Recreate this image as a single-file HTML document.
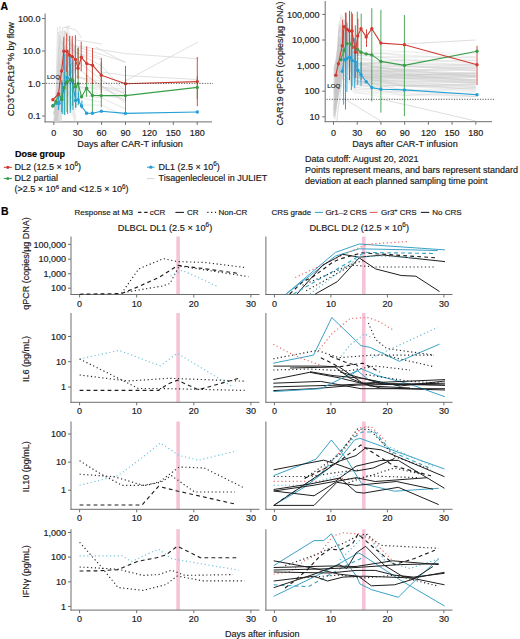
<!DOCTYPE html>
<html><head><meta charset="utf-8"><style>
html,body{margin:0;padding:0;background:#fff;}
svg{display:block;}
text{font-family:"Liberation Sans",sans-serif;}
</style></head><body>
<svg width="520" height="639" viewBox="0 0 520 639" font-family="Liberation Sans, sans-serif">
<rect width="520" height="639" fill="#fff"/>
<text x="0.6" y="10.3" font-size="10.5" text-anchor="start" font-weight="bold" fill="#000" stroke="#000" stroke-width="0.18" >A</text>
<line x1="45.10" y1="13.50" x2="45.10" y2="122.40" stroke="#6e6e6e" stroke-width="1"/>
<line x1="44.60" y1="121.90" x2="212.00" y2="121.90" stroke="#6e6e6e" stroke-width="1"/>
<line x1="42.10" y1="18.50" x2="45.10" y2="18.50" stroke="#6e6e6e" stroke-width="1"/>
<text x="40.5" y="21.6" font-size="9" text-anchor="end" fill="#1c1c1c" stroke="#1c1c1c" stroke-width="0.18" >100.0</text>
<line x1="42.10" y1="51.00" x2="45.10" y2="51.00" stroke="#6e6e6e" stroke-width="1"/>
<text x="40.5" y="54.1" font-size="9" text-anchor="end" fill="#1c1c1c" stroke="#1c1c1c" stroke-width="0.18" >10.0</text>
<line x1="42.10" y1="83.50" x2="45.10" y2="83.50" stroke="#6e6e6e" stroke-width="1"/>
<text x="40.5" y="86.6" font-size="9" text-anchor="end" fill="#1c1c1c" stroke="#1c1c1c" stroke-width="0.18" >1.0</text>
<line x1="42.10" y1="116.00" x2="45.10" y2="116.00" stroke="#6e6e6e" stroke-width="1"/>
<text x="40.5" y="119.1" font-size="9" text-anchor="end" fill="#1c1c1c" stroke="#1c1c1c" stroke-width="0.18" >0.1</text>
<line x1="53.80" y1="121.90" x2="53.80" y2="124.90" stroke="#6e6e6e" stroke-width="1"/>
<text x="53.8" y="135.6" font-size="9" text-anchor="middle" fill="#1c1c1c" stroke="#1c1c1c" stroke-width="0.18" >0</text>
<line x1="77.70" y1="121.90" x2="77.70" y2="124.90" stroke="#6e6e6e" stroke-width="1"/>
<text x="77.7" y="135.6" font-size="9" text-anchor="middle" fill="#1c1c1c" stroke="#1c1c1c" stroke-width="0.18" >30</text>
<line x1="101.60" y1="121.90" x2="101.60" y2="124.90" stroke="#6e6e6e" stroke-width="1"/>
<text x="101.6" y="135.6" font-size="9" text-anchor="middle" fill="#1c1c1c" stroke="#1c1c1c" stroke-width="0.18" >60</text>
<line x1="125.50" y1="121.90" x2="125.50" y2="124.90" stroke="#6e6e6e" stroke-width="1"/>
<text x="125.5" y="135.6" font-size="9" text-anchor="middle" fill="#1c1c1c" stroke="#1c1c1c" stroke-width="0.18" >90</text>
<line x1="149.40" y1="121.90" x2="149.40" y2="124.90" stroke="#6e6e6e" stroke-width="1"/>
<text x="149.4" y="135.6" font-size="9" text-anchor="middle" fill="#1c1c1c" stroke="#1c1c1c" stroke-width="0.18" >120</text>
<line x1="173.31" y1="121.90" x2="173.31" y2="124.90" stroke="#6e6e6e" stroke-width="1"/>
<text x="173.3" y="135.6" font-size="9" text-anchor="middle" fill="#1c1c1c" stroke="#1c1c1c" stroke-width="0.18" >150</text>
<line x1="197.21" y1="121.90" x2="197.21" y2="124.90" stroke="#6e6e6e" stroke-width="1"/>
<text x="197.2" y="135.6" font-size="9" text-anchor="middle" fill="#1c1c1c" stroke="#1c1c1c" stroke-width="0.18" >180</text>
<text x="130.1" y="146.8" font-size="9.1" text-anchor="middle" fill="#1c1c1c" stroke="#1c1c1c" stroke-width="0.18" >Days after CAR-T infusion</text>
<text transform="translate(14.2,69.2) rotate(-90)" font-size="9.1" text-anchor="middle" fill="#1c1c1c" stroke="#1c1c1c" stroke-width="0.18">CD3<tspan dy="-3.2" font-size="6.5">+</tspan><tspan dy="3.2">CAR19</tspan><tspan dy="-3.2" font-size="6.5">+</tspan><tspan dy="3.2">% by flow</tspan></text>
<line x1="325.20" y1="1.00" x2="325.20" y2="122.20" stroke="#6e6e6e" stroke-width="1"/>
<line x1="324.70" y1="121.70" x2="492.00" y2="121.70" stroke="#6e6e6e" stroke-width="1"/>
<line x1="322.20" y1="14.40" x2="325.20" y2="14.40" stroke="#6e6e6e" stroke-width="1"/>
<text x="319.6" y="17.6" font-size="9" text-anchor="end" fill="#1c1c1c" stroke="#1c1c1c" stroke-width="0.18" >100,000</text>
<line x1="322.20" y1="40.00" x2="325.20" y2="40.00" stroke="#6e6e6e" stroke-width="1"/>
<text x="319.6" y="43.2" font-size="9" text-anchor="end" fill="#1c1c1c" stroke="#1c1c1c" stroke-width="0.18" >10,000</text>
<line x1="322.20" y1="65.60" x2="325.20" y2="65.60" stroke="#6e6e6e" stroke-width="1"/>
<text x="319.6" y="68.8" font-size="9" text-anchor="end" fill="#1c1c1c" stroke="#1c1c1c" stroke-width="0.18" >1,000</text>
<line x1="322.20" y1="91.20" x2="325.20" y2="91.20" stroke="#6e6e6e" stroke-width="1"/>
<text x="319.6" y="94.4" font-size="9" text-anchor="end" fill="#1c1c1c" stroke="#1c1c1c" stroke-width="0.18" >100</text>
<line x1="322.20" y1="116.80" x2="325.20" y2="116.80" stroke="#6e6e6e" stroke-width="1"/>
<text x="319.6" y="120.0" font-size="9" text-anchor="end" fill="#1c1c1c" stroke="#1c1c1c" stroke-width="0.18" >10</text>
<line x1="333.50" y1="121.70" x2="333.50" y2="124.70" stroke="#6e6e6e" stroke-width="1"/>
<text x="333.5" y="135.8" font-size="9" text-anchor="middle" fill="#1c1c1c" stroke="#1c1c1c" stroke-width="0.18" >0</text>
<line x1="357.22" y1="121.70" x2="357.22" y2="124.70" stroke="#6e6e6e" stroke-width="1"/>
<text x="357.2" y="135.8" font-size="9" text-anchor="middle" fill="#1c1c1c" stroke="#1c1c1c" stroke-width="0.18" >30</text>
<line x1="380.94" y1="121.70" x2="380.94" y2="124.70" stroke="#6e6e6e" stroke-width="1"/>
<text x="380.9" y="135.8" font-size="9" text-anchor="middle" fill="#1c1c1c" stroke="#1c1c1c" stroke-width="0.18" >60</text>
<line x1="404.65" y1="121.70" x2="404.65" y2="124.70" stroke="#6e6e6e" stroke-width="1"/>
<text x="404.7" y="135.8" font-size="9" text-anchor="middle" fill="#1c1c1c" stroke="#1c1c1c" stroke-width="0.18" >90</text>
<line x1="428.37" y1="121.70" x2="428.37" y2="124.70" stroke="#6e6e6e" stroke-width="1"/>
<text x="428.4" y="135.8" font-size="9" text-anchor="middle" fill="#1c1c1c" stroke="#1c1c1c" stroke-width="0.18" >120</text>
<line x1="452.09" y1="121.70" x2="452.09" y2="124.70" stroke="#6e6e6e" stroke-width="1"/>
<text x="452.1" y="135.8" font-size="9" text-anchor="middle" fill="#1c1c1c" stroke="#1c1c1c" stroke-width="0.18" >150</text>
<line x1="475.81" y1="121.70" x2="475.81" y2="124.70" stroke="#6e6e6e" stroke-width="1"/>
<text x="475.8" y="135.8" font-size="9" text-anchor="middle" fill="#1c1c1c" stroke="#1c1c1c" stroke-width="0.18" >180</text>
<text x="405.0" y="146.8" font-size="9.1" text-anchor="middle" fill="#1c1c1c" stroke="#1c1c1c" stroke-width="0.18" >Days after CAR-T infusion</text>
<text transform="translate(282.8,63.5) rotate(-90)" font-size="9" text-anchor="middle" fill="#1c1c1c" stroke="#1c1c1c" stroke-width="0.18">CAR19 qPCR (copies/µg DNA)</text>
<text x="15.0" y="157.3" font-size="9" text-anchor="start" font-weight="bold" fill="#000" stroke="#000" stroke-width="0.18" >Dose group</text>
<line x1="3.80" y1="167.30" x2="11.90" y2="167.30" stroke="#cf3b32" stroke-width="1"/>
<circle cx="7.8" cy="167.3" r="1.6" fill="#cf3b32"/>
<line x1="3.80" y1="178.50" x2="11.90" y2="178.50" stroke="#3a9e48" stroke-width="1"/>
<circle cx="7.8" cy="178.5" r="1.6" fill="#3a9e48"/>
<text x="14.6" y="169.8" font-size="9" text-anchor="start" fill="#1c1c1c" stroke="#1c1c1c" stroke-width="0.18" >DL2 (12.5 × 10<tspan dy="-3.6" font-size="6.4">6</tspan><tspan dy="3.6">)</tspan></text>
<text x="14.6" y="181.0" font-size="9" text-anchor="start" fill="#1c1c1c" stroke="#1c1c1c" stroke-width="0.18" >DL2 partial</text>
<text x="14.6" y="192.2" font-size="9" text-anchor="start" fill="#1c1c1c" stroke="#1c1c1c" stroke-width="0.18" >(&gt;2.5 × 10<tspan dy="-3" font-size="6">6</tspan><tspan dy="3"> and &lt;12.5 × 10</tspan><tspan dy="-3.6" font-size="6.4">6</tspan><tspan dy="3.6">)</tspan></text>
<line x1="147.00" y1="167.20" x2="154.50" y2="167.20" stroke="#23a0d6" stroke-width="1"/>
<circle cx="150.8" cy="167.2" r="1.6" fill="#23a0d6"/>
<text x="158.5" y="169.8" font-size="9" text-anchor="start" fill="#1c1c1c" stroke="#1c1c1c" stroke-width="0.18" >DL1 (2.5 × 10<tspan dy="-3.6" font-size="6.4">6</tspan><tspan dy="3.6">)</tspan></text>
<line x1="147.00" y1="178.60" x2="154.50" y2="178.60" stroke="#d6d6d6" stroke-width="1"/>
<text x="158.5" y="181.0" font-size="9" text-anchor="start" fill="#1c1c1c" stroke="#1c1c1c" stroke-width="0.18" >Tisagenlecleucel in JULIET</text>
<text x="305.0" y="161.6" font-size="9" text-anchor="start" fill="#1c1c1c" stroke="#1c1c1c" stroke-width="0.18" >Data cutoff: August 20, 2021</text>
<text x="305.0" y="172.8" font-size="9" text-anchor="start" fill="#1c1c1c" stroke="#1c1c1c" stroke-width="0.18" >Points represent means, and bars represent standard</text>
<text x="305.0" y="184.0" font-size="9" text-anchor="start" fill="#1c1c1c" stroke="#1c1c1c" stroke-width="0.18" >deviation at each planned sampling time point</text>
<text x="0.9" y="214.8" font-size="10.5" text-anchor="start" font-weight="bold" fill="#000" stroke="#000" stroke-width="0.18" >B</text>
<text x="74.6" y="215.1" font-size="8" text-anchor="start" fill="#1c1c1c" stroke="#1c1c1c" stroke-width="0.18" >Response at M3</text>
<line x1="138.00" y1="212.40" x2="147.60" y2="212.40" stroke="#222" stroke-width="1.1" stroke-dasharray="3.4,2.8"/>
<text x="149.8" y="215.1" font-size="8" text-anchor="start" fill="#1c1c1c" stroke="#1c1c1c" stroke-width="0.18" >cCR</text>
<line x1="175.40" y1="212.40" x2="184.00" y2="212.40" stroke="#222" stroke-width="1.1"/>
<text x="187.0" y="215.1" font-size="8" text-anchor="start" fill="#1c1c1c" stroke="#1c1c1c" stroke-width="0.18" >CR</text>
<line x1="207.30" y1="212.40" x2="217.00" y2="212.40" stroke="#222" stroke-width="1.2" stroke-dasharray="1.2,2.6"/>
<text x="218.5" y="215.1" font-size="8" text-anchor="start" fill="#1c1c1c" stroke="#1c1c1c" stroke-width="0.18" >Non-CR</text>
<text x="165.0" y="230.9" font-size="9.2" text-anchor="middle" fill="#1c1c1c" stroke="#1c1c1c" stroke-width="0.18" >DLBCL DL1 (2.5 × 10<tspan dy="-3.6" font-size="6.4">6</tspan><tspan dy="3.6">)</tspan></text>
<text x="271.5" y="215.1" font-size="8" text-anchor="start" fill="#1c1c1c" stroke="#1c1c1c" stroke-width="0.18" >CRS grade</text>
<line x1="315.00" y1="212.40" x2="323.00" y2="212.40" stroke="#3ba8cc" stroke-width="1.1"/>
<text x="325.4" y="215.1" font-size="8" text-anchor="start" fill="#1c1c1c" stroke="#1c1c1c" stroke-width="0.18" >Gr1–2 CRS</text>
<line x1="369.60" y1="212.40" x2="377.50" y2="212.40" stroke="#e0625e" stroke-width="1.1"/>
<text x="381.0" y="215.1" font-size="8" text-anchor="start" fill="#1c1c1c" stroke="#1c1c1c" stroke-width="0.18" >Gr3<tspan dy="-3" font-size="5.5">+</tspan><tspan dy="3"> CRS</tspan></text>
<line x1="420.80" y1="212.40" x2="429.20" y2="212.40" stroke="#222" stroke-width="1.1"/>
<text x="432.3" y="215.1" font-size="8" text-anchor="start" fill="#1c1c1c" stroke="#1c1c1c" stroke-width="0.18" >No CRS</text>
<text x="359.2" y="230.9" font-size="9.2" text-anchor="middle" fill="#1c1c1c" stroke="#1c1c1c" stroke-width="0.18" >DLBCL DL2 (12.5 × 10<tspan dy="-3.6" font-size="6.4">6</tspan><tspan dy="3.6">)</tspan></text>
<rect x="176.3" y="236.5" width="3.6" height="58.0" fill="#f5c4d8"/>
<rect x="362.0" y="236.5" width="3.6" height="58.0" fill="#f5c4d8"/>
<line x1="71.00" y1="236.50" x2="71.00" y2="295.00" stroke="#6e6e6e" stroke-width="1"/>
<line x1="70.50" y1="294.50" x2="259.50" y2="294.50" stroke="#6e6e6e" stroke-width="1"/>
<line x1="79.60" y1="294.50" x2="79.60" y2="297.50" stroke="#6e6e6e" stroke-width="1"/>
<text x="79.6" y="307.3" font-size="9" text-anchor="middle" fill="#1c1c1c" stroke="#1c1c1c" stroke-width="0.18" >0</text>
<line x1="136.70" y1="294.50" x2="136.70" y2="297.50" stroke="#6e6e6e" stroke-width="1"/>
<text x="136.7" y="307.3" font-size="9" text-anchor="middle" fill="#1c1c1c" stroke="#1c1c1c" stroke-width="0.18" >10</text>
<line x1="193.80" y1="294.50" x2="193.80" y2="297.50" stroke="#6e6e6e" stroke-width="1"/>
<text x="193.8" y="307.3" font-size="9" text-anchor="middle" fill="#1c1c1c" stroke="#1c1c1c" stroke-width="0.18" >20</text>
<line x1="250.90" y1="294.50" x2="250.90" y2="297.50" stroke="#6e6e6e" stroke-width="1"/>
<text x="250.9" y="307.3" font-size="9" text-anchor="middle" fill="#1c1c1c" stroke="#1c1c1c" stroke-width="0.18" >30</text>
<line x1="265.90" y1="236.50" x2="265.90" y2="295.00" stroke="#6e6e6e" stroke-width="1"/>
<line x1="265.40" y1="294.50" x2="452.50" y2="294.50" stroke="#6e6e6e" stroke-width="1"/>
<line x1="274.40" y1="294.50" x2="274.40" y2="297.50" stroke="#6e6e6e" stroke-width="1"/>
<text x="274.4" y="307.3" font-size="9" text-anchor="middle" fill="#1c1c1c" stroke="#1c1c1c" stroke-width="0.18" >0</text>
<line x1="330.90" y1="294.50" x2="330.90" y2="297.50" stroke="#6e6e6e" stroke-width="1"/>
<text x="330.9" y="307.3" font-size="9" text-anchor="middle" fill="#1c1c1c" stroke="#1c1c1c" stroke-width="0.18" >10</text>
<line x1="387.40" y1="294.50" x2="387.40" y2="297.50" stroke="#6e6e6e" stroke-width="1"/>
<text x="387.4" y="307.3" font-size="9" text-anchor="middle" fill="#1c1c1c" stroke="#1c1c1c" stroke-width="0.18" >20</text>
<line x1="443.90" y1="294.50" x2="443.90" y2="297.50" stroke="#6e6e6e" stroke-width="1"/>
<text x="443.9" y="307.3" font-size="9" text-anchor="middle" fill="#1c1c1c" stroke="#1c1c1c" stroke-width="0.18" >30</text>
<line x1="68.00" y1="244.40" x2="71.00" y2="244.40" stroke="#6e6e6e" stroke-width="1"/>
<text x="66.0" y="247.5" font-size="9" text-anchor="end" fill="#1c1c1c" stroke="#1c1c1c" stroke-width="0.18" >100,000</text>
<line x1="68.00" y1="259.20" x2="71.00" y2="259.20" stroke="#6e6e6e" stroke-width="1"/>
<text x="66.0" y="262.3" font-size="9" text-anchor="end" fill="#1c1c1c" stroke="#1c1c1c" stroke-width="0.18" >10,000</text>
<line x1="68.00" y1="273.80" x2="71.00" y2="273.80" stroke="#6e6e6e" stroke-width="1"/>
<text x="66.0" y="276.9" font-size="9" text-anchor="end" fill="#1c1c1c" stroke="#1c1c1c" stroke-width="0.18" >1,000</text>
<line x1="68.00" y1="288.20" x2="71.00" y2="288.20" stroke="#6e6e6e" stroke-width="1"/>
<text x="66.0" y="291.3" font-size="9" text-anchor="end" fill="#1c1c1c" stroke="#1c1c1c" stroke-width="0.18" >100</text>
<text transform="translate(29.0,263.5) rotate(-90)" font-size="9" text-anchor="middle" fill="#1c1c1c" stroke="#1c1c1c" stroke-width="0.18">qPCR (copies/µg DNA)</text>
<rect x="176.3" y="313.0" width="3.6" height="89.30000000000001" fill="#f5c4d8"/>
<rect x="362.0" y="313.0" width="3.6" height="89.30000000000001" fill="#f5c4d8"/>
<line x1="71.00" y1="313.00" x2="71.00" y2="402.80" stroke="#6e6e6e" stroke-width="1"/>
<line x1="70.50" y1="402.30" x2="259.50" y2="402.30" stroke="#6e6e6e" stroke-width="1"/>
<line x1="79.60" y1="402.30" x2="79.60" y2="405.30" stroke="#6e6e6e" stroke-width="1"/>
<text x="79.6" y="414.3" font-size="9" text-anchor="middle" fill="#1c1c1c" stroke="#1c1c1c" stroke-width="0.18" >0</text>
<line x1="136.70" y1="402.30" x2="136.70" y2="405.30" stroke="#6e6e6e" stroke-width="1"/>
<text x="136.7" y="414.3" font-size="9" text-anchor="middle" fill="#1c1c1c" stroke="#1c1c1c" stroke-width="0.18" >10</text>
<line x1="193.80" y1="402.30" x2="193.80" y2="405.30" stroke="#6e6e6e" stroke-width="1"/>
<text x="193.8" y="414.3" font-size="9" text-anchor="middle" fill="#1c1c1c" stroke="#1c1c1c" stroke-width="0.18" >20</text>
<line x1="250.90" y1="402.30" x2="250.90" y2="405.30" stroke="#6e6e6e" stroke-width="1"/>
<text x="250.9" y="414.3" font-size="9" text-anchor="middle" fill="#1c1c1c" stroke="#1c1c1c" stroke-width="0.18" >30</text>
<line x1="265.90" y1="313.00" x2="265.90" y2="402.80" stroke="#6e6e6e" stroke-width="1"/>
<line x1="265.40" y1="402.30" x2="452.50" y2="402.30" stroke="#6e6e6e" stroke-width="1"/>
<line x1="274.40" y1="402.30" x2="274.40" y2="405.30" stroke="#6e6e6e" stroke-width="1"/>
<text x="274.4" y="414.3" font-size="9" text-anchor="middle" fill="#1c1c1c" stroke="#1c1c1c" stroke-width="0.18" >0</text>
<line x1="330.90" y1="402.30" x2="330.90" y2="405.30" stroke="#6e6e6e" stroke-width="1"/>
<text x="330.9" y="414.3" font-size="9" text-anchor="middle" fill="#1c1c1c" stroke="#1c1c1c" stroke-width="0.18" >10</text>
<line x1="387.40" y1="402.30" x2="387.40" y2="405.30" stroke="#6e6e6e" stroke-width="1"/>
<text x="387.4" y="414.3" font-size="9" text-anchor="middle" fill="#1c1c1c" stroke="#1c1c1c" stroke-width="0.18" >20</text>
<line x1="443.90" y1="402.30" x2="443.90" y2="405.30" stroke="#6e6e6e" stroke-width="1"/>
<text x="443.9" y="414.3" font-size="9" text-anchor="middle" fill="#1c1c1c" stroke="#1c1c1c" stroke-width="0.18" >30</text>
<line x1="68.00" y1="336.50" x2="71.00" y2="336.50" stroke="#6e6e6e" stroke-width="1"/>
<text x="66.0" y="339.6" font-size="9" text-anchor="end" fill="#1c1c1c" stroke="#1c1c1c" stroke-width="0.18" >100</text>
<line x1="68.00" y1="361.70" x2="71.00" y2="361.70" stroke="#6e6e6e" stroke-width="1"/>
<text x="66.0" y="364.8" font-size="9" text-anchor="end" fill="#1c1c1c" stroke="#1c1c1c" stroke-width="0.18" >10</text>
<line x1="68.00" y1="387.00" x2="71.00" y2="387.00" stroke="#6e6e6e" stroke-width="1"/>
<text x="66.0" y="390.1" font-size="9" text-anchor="end" fill="#1c1c1c" stroke="#1c1c1c" stroke-width="0.18" >1</text>
<text transform="translate(29.0,359.0) rotate(-90)" font-size="9" text-anchor="middle" fill="#1c1c1c" stroke="#1c1c1c" stroke-width="0.18">IL6 (pg/mL)</text>
<rect x="176.3" y="421.5" width="3.6" height="87.80000000000001" fill="#f5c4d8"/>
<rect x="362.0" y="421.5" width="3.6" height="87.80000000000001" fill="#f5c4d8"/>
<line x1="71.00" y1="421.50" x2="71.00" y2="509.80" stroke="#6e6e6e" stroke-width="1"/>
<line x1="70.50" y1="509.30" x2="259.50" y2="509.30" stroke="#6e6e6e" stroke-width="1"/>
<line x1="79.60" y1="509.30" x2="79.60" y2="512.30" stroke="#6e6e6e" stroke-width="1"/>
<text x="79.6" y="521.3" font-size="9" text-anchor="middle" fill="#1c1c1c" stroke="#1c1c1c" stroke-width="0.18" >0</text>
<line x1="136.70" y1="509.30" x2="136.70" y2="512.30" stroke="#6e6e6e" stroke-width="1"/>
<text x="136.7" y="521.3" font-size="9" text-anchor="middle" fill="#1c1c1c" stroke="#1c1c1c" stroke-width="0.18" >10</text>
<line x1="193.80" y1="509.30" x2="193.80" y2="512.30" stroke="#6e6e6e" stroke-width="1"/>
<text x="193.8" y="521.3" font-size="9" text-anchor="middle" fill="#1c1c1c" stroke="#1c1c1c" stroke-width="0.18" >20</text>
<line x1="250.90" y1="509.30" x2="250.90" y2="512.30" stroke="#6e6e6e" stroke-width="1"/>
<text x="250.9" y="521.3" font-size="9" text-anchor="middle" fill="#1c1c1c" stroke="#1c1c1c" stroke-width="0.18" >30</text>
<line x1="265.90" y1="421.50" x2="265.90" y2="509.80" stroke="#6e6e6e" stroke-width="1"/>
<line x1="265.40" y1="509.30" x2="452.50" y2="509.30" stroke="#6e6e6e" stroke-width="1"/>
<line x1="274.40" y1="509.30" x2="274.40" y2="512.30" stroke="#6e6e6e" stroke-width="1"/>
<text x="274.4" y="521.3" font-size="9" text-anchor="middle" fill="#1c1c1c" stroke="#1c1c1c" stroke-width="0.18" >0</text>
<line x1="330.90" y1="509.30" x2="330.90" y2="512.30" stroke="#6e6e6e" stroke-width="1"/>
<text x="330.9" y="521.3" font-size="9" text-anchor="middle" fill="#1c1c1c" stroke="#1c1c1c" stroke-width="0.18" >10</text>
<line x1="387.40" y1="509.30" x2="387.40" y2="512.30" stroke="#6e6e6e" stroke-width="1"/>
<text x="387.4" y="521.3" font-size="9" text-anchor="middle" fill="#1c1c1c" stroke="#1c1c1c" stroke-width="0.18" >20</text>
<line x1="443.90" y1="509.30" x2="443.90" y2="512.30" stroke="#6e6e6e" stroke-width="1"/>
<text x="443.9" y="521.3" font-size="9" text-anchor="middle" fill="#1c1c1c" stroke="#1c1c1c" stroke-width="0.18" >30</text>
<line x1="68.00" y1="434.00" x2="71.00" y2="434.00" stroke="#6e6e6e" stroke-width="1"/>
<text x="66.0" y="437.1" font-size="9" text-anchor="end" fill="#1c1c1c" stroke="#1c1c1c" stroke-width="0.18" >100</text>
<line x1="68.00" y1="462.10" x2="71.00" y2="462.10" stroke="#6e6e6e" stroke-width="1"/>
<text x="66.0" y="465.2" font-size="9" text-anchor="end" fill="#1c1c1c" stroke="#1c1c1c" stroke-width="0.18" >10</text>
<line x1="68.00" y1="490.20" x2="71.00" y2="490.20" stroke="#6e6e6e" stroke-width="1"/>
<text x="66.0" y="493.3" font-size="9" text-anchor="end" fill="#1c1c1c" stroke="#1c1c1c" stroke-width="0.18" >1</text>
<text transform="translate(29.0,466.7) rotate(-90)" font-size="9" text-anchor="middle" fill="#1c1c1c" stroke="#1c1c1c" stroke-width="0.18">IL10 (pg/mL)</text>
<rect x="176.3" y="529.2" width="3.6" height="80.89999999999998" fill="#f5c4d8"/>
<rect x="362.0" y="529.2" width="3.6" height="80.89999999999998" fill="#f5c4d8"/>
<line x1="71.00" y1="529.20" x2="71.00" y2="610.60" stroke="#6e6e6e" stroke-width="1"/>
<line x1="70.50" y1="610.10" x2="259.50" y2="610.10" stroke="#6e6e6e" stroke-width="1"/>
<line x1="79.60" y1="610.10" x2="79.60" y2="613.10" stroke="#6e6e6e" stroke-width="1"/>
<text x="79.6" y="622.1" font-size="9" text-anchor="middle" fill="#1c1c1c" stroke="#1c1c1c" stroke-width="0.18" >0</text>
<line x1="136.70" y1="610.10" x2="136.70" y2="613.10" stroke="#6e6e6e" stroke-width="1"/>
<text x="136.7" y="622.1" font-size="9" text-anchor="middle" fill="#1c1c1c" stroke="#1c1c1c" stroke-width="0.18" >10</text>
<line x1="193.80" y1="610.10" x2="193.80" y2="613.10" stroke="#6e6e6e" stroke-width="1"/>
<text x="193.8" y="622.1" font-size="9" text-anchor="middle" fill="#1c1c1c" stroke="#1c1c1c" stroke-width="0.18" >20</text>
<line x1="250.90" y1="610.10" x2="250.90" y2="613.10" stroke="#6e6e6e" stroke-width="1"/>
<text x="250.9" y="622.1" font-size="9" text-anchor="middle" fill="#1c1c1c" stroke="#1c1c1c" stroke-width="0.18" >30</text>
<line x1="265.90" y1="529.20" x2="265.90" y2="610.60" stroke="#6e6e6e" stroke-width="1"/>
<line x1="265.40" y1="610.10" x2="452.50" y2="610.10" stroke="#6e6e6e" stroke-width="1"/>
<line x1="274.40" y1="610.10" x2="274.40" y2="613.10" stroke="#6e6e6e" stroke-width="1"/>
<text x="274.4" y="622.1" font-size="9" text-anchor="middle" fill="#1c1c1c" stroke="#1c1c1c" stroke-width="0.18" >0</text>
<line x1="330.90" y1="610.10" x2="330.90" y2="613.10" stroke="#6e6e6e" stroke-width="1"/>
<text x="330.9" y="622.1" font-size="9" text-anchor="middle" fill="#1c1c1c" stroke="#1c1c1c" stroke-width="0.18" >10</text>
<line x1="387.40" y1="610.10" x2="387.40" y2="613.10" stroke="#6e6e6e" stroke-width="1"/>
<text x="387.4" y="622.1" font-size="9" text-anchor="middle" fill="#1c1c1c" stroke="#1c1c1c" stroke-width="0.18" >20</text>
<line x1="443.90" y1="610.10" x2="443.90" y2="613.10" stroke="#6e6e6e" stroke-width="1"/>
<text x="443.9" y="622.1" font-size="9" text-anchor="middle" fill="#1c1c1c" stroke="#1c1c1c" stroke-width="0.18" >30</text>
<line x1="68.00" y1="532.50" x2="71.00" y2="532.50" stroke="#6e6e6e" stroke-width="1"/>
<text x="66.0" y="535.6" font-size="9" text-anchor="end" fill="#1c1c1c" stroke="#1c1c1c" stroke-width="0.18" >1,000</text>
<line x1="68.00" y1="557.10" x2="71.00" y2="557.10" stroke="#6e6e6e" stroke-width="1"/>
<text x="66.0" y="560.2" font-size="9" text-anchor="end" fill="#1c1c1c" stroke="#1c1c1c" stroke-width="0.18" >100</text>
<line x1="68.00" y1="581.80" x2="71.00" y2="581.80" stroke="#6e6e6e" stroke-width="1"/>
<text x="66.0" y="584.9" font-size="9" text-anchor="end" fill="#1c1c1c" stroke="#1c1c1c" stroke-width="0.18" >10</text>
<line x1="68.00" y1="606.50" x2="71.00" y2="606.50" stroke="#6e6e6e" stroke-width="1"/>
<text x="66.0" y="609.6" font-size="9" text-anchor="end" fill="#1c1c1c" stroke="#1c1c1c" stroke-width="0.18" >1</text>
<text transform="translate(29.0,571.5) rotate(-90)" font-size="9" text-anchor="middle" fill="#1c1c1c" stroke="#1c1c1c" stroke-width="0.18">IFNγ (pg/mL)</text>
<text x="262.3" y="637.2" font-size="9" text-anchor="middle" fill="#1c1c1c" stroke="#1c1c1c" stroke-width="0.18" >Days after infusion</text>
<clipPath id="cA1"><rect x="46" y="10" width="170" height="112"/></clipPath>
<clipPath id="cA2"><rect x="326.5" y="0" width="170" height="121.5"/></clipPath>
<g clip-path="url(#cA1)">
<polyline points="53.8,107.8 55.4,102.6 57.0,101.7 59.4,86.1 61.0,73.1 62.6,64.2 65.0,44.8 67.3,55.8 70.5,67.0 72.9,75.4 76.1,86.6 101.6,89.4 125.5,95.9" fill="none" stroke="#c8c8c8" stroke-width="0.7" stroke-linejoin="round" stroke-linecap="butt" stroke-opacity="0.6"/>
<polyline points="53.8,119.5 55.4,119.0 57.0,110.7 59.4,103.8 61.0,91.4 62.6,82.9 65.0,86.5 67.3,90.5 70.5,95.8 72.9,99.8 76.1,105.1 101.6,105.1 125.5,116.0" fill="none" stroke="#c8c8c8" stroke-width="0.7" stroke-linejoin="round" stroke-linecap="butt" stroke-opacity="0.6"/>
<polyline points="53.8,125.5 55.4,119.8 57.0,115.1 59.4,95.3 61.0,85.2 62.6,70.7 65.0,82.3 67.3,90.8 70.5,102.1 72.9,110.7 76.1,122.0" fill="none" stroke="#c8c8c8" stroke-width="0.7" stroke-linejoin="round" stroke-linecap="butt" stroke-opacity="0.6"/>
<polyline points="53.8,123.2 55.4,119.1 57.0,110.0 59.4,100.1 61.0,91.1 62.6,80.7 65.0,68.9 67.3,74.4 70.5,85.6 72.9,94.0 76.1,105.1" fill="none" stroke="#c8c8c8" stroke-width="0.7" stroke-linejoin="round" stroke-linecap="butt" stroke-opacity="0.6"/>
<polyline points="53.8,131.3 55.4,126.6 57.0,115.3 59.4,102.2 61.0,95.9 62.6,84.5 65.0,65.3 67.3,71.3 70.5,78.9 72.9,84.6 76.1,92.1" fill="none" stroke="#c8c8c8" stroke-width="0.7" stroke-linejoin="round" stroke-linecap="butt" stroke-opacity="0.6"/>
<polyline points="53.8,119.7 55.4,107.3 57.0,96.0 59.4,63.2 61.0,66.3 62.6,71.0 65.0,78.0 67.3,85.1 70.5,94.5 72.9,101.5 76.1,110.9" fill="none" stroke="#c8c8c8" stroke-width="0.7" stroke-linejoin="round" stroke-linecap="butt" stroke-opacity="0.6"/>
<polyline points="53.8,106.5 55.4,102.4 57.0,95.8 59.4,88.3 61.0,80.8 62.6,71.3 65.0,53.5 67.3,61.0 70.5,66.9 72.9,71.2 76.1,77.1 101.6,81.2" fill="none" stroke="#c8c8c8" stroke-width="0.7" stroke-linejoin="round" stroke-linecap="butt" stroke-opacity="0.6"/>
<polyline points="53.8,127.1 55.4,120.7 57.0,108.8 59.4,83.3 61.0,64.2 62.6,70.6 65.0,75.3 67.3,80.1 70.5,86.5 72.9,91.2 76.1,97.6" fill="none" stroke="#c8c8c8" stroke-width="0.7" stroke-linejoin="round" stroke-linecap="butt" stroke-opacity="0.6"/>
<polyline points="53.8,135.1 55.4,130.3 57.0,118.9 59.4,105.3 61.0,86.8 62.6,74.7 65.0,50.1 67.3,27.5 70.5,36.0 72.9,43.3 76.1,52.9 101.6,59.3" fill="none" stroke="#c8c8c8" stroke-width="0.7" stroke-linejoin="round" stroke-linecap="butt" stroke-opacity="0.6"/>
<polyline points="53.8,134.0 55.4,124.4 57.0,119.8 59.4,103.1 61.0,87.4 62.6,75.0 65.0,52.3 67.3,31.9 70.5,38.9 72.9,44.3 76.1,51.6" fill="none" stroke="#c8c8c8" stroke-width="0.7" stroke-linejoin="round" stroke-linecap="butt" stroke-opacity="0.6"/>
<polyline points="53.8,123.7 55.4,125.6 57.0,115.8 59.4,107.8 61.0,102.4 62.6,89.0 65.0,75.7 67.3,65.1 70.5,41.3 72.9,46.9 76.1,54.4" fill="none" stroke="#c8c8c8" stroke-width="0.7" stroke-linejoin="round" stroke-linecap="butt" stroke-opacity="0.6"/>
<polyline points="53.8,134.0 55.4,127.2 57.0,122.0 59.4,103.5 61.0,88.9 62.6,73.9 65.0,49.5 67.3,59.2 70.5,69.3 72.9,76.9 76.1,86.9 101.6,95.1 125.5,98.9" fill="none" stroke="#c8c8c8" stroke-width="0.7" stroke-linejoin="round" stroke-linecap="butt" stroke-opacity="0.6"/>
<polyline points="53.8,120.9 55.4,113.1 57.0,99.8 59.4,73.0 61.0,77.9 62.6,82.9 65.0,90.3 67.3,97.8 70.5,107.7 72.9,115.1 76.1,125.0" fill="none" stroke="#c8c8c8" stroke-width="0.7" stroke-linejoin="round" stroke-linecap="butt" stroke-opacity="0.6"/>
<polyline points="53.8,112.1 55.4,111.9 57.0,103.1 59.4,92.3 61.0,85.3 62.6,74.4 65.0,59.8 67.3,70.0 70.5,79.6 72.9,86.8 76.1,96.4" fill="none" stroke="#c8c8c8" stroke-width="0.7" stroke-linejoin="round" stroke-linecap="butt" stroke-opacity="0.6"/>
<polyline points="53.8,126.4 55.4,123.1 57.0,113.0 59.4,87.3 61.0,71.9 62.6,52.0 65.0,57.8 67.3,62.8 70.5,69.5 72.9,74.6 76.1,81.3" fill="none" stroke="#c8c8c8" stroke-width="0.7" stroke-linejoin="round" stroke-linecap="butt" stroke-opacity="0.6"/>
<polyline points="53.8,123.0 55.4,123.2 57.0,112.6 59.4,106.6 61.0,95.3 62.6,85.5 65.0,72.7 67.3,51.8 70.5,61.7 72.9,67.8 76.1,76.0 101.6,87.2 125.5,89.1" fill="none" stroke="#c8c8c8" stroke-width="0.7" stroke-linejoin="round" stroke-linecap="butt" stroke-opacity="0.6"/>
<polyline points="53.8,126.8 55.4,116.5 57.0,95.2 59.4,60.2 61.0,31.1 62.6,34.5 65.0,38.5 67.3,42.5 70.5,47.8 72.9,51.7 76.1,57.0" fill="none" stroke="#c8c8c8" stroke-width="0.7" stroke-linejoin="round" stroke-linecap="butt" stroke-opacity="0.6"/>
<polyline points="53.8,136.6 55.4,131.4 57.0,126.3 59.4,108.1 61.0,100.6 62.6,91.4 65.0,68.8 67.3,74.9 70.5,81.9 72.9,87.2 76.1,94.2 101.6,98.1 125.5,108.9" fill="none" stroke="#c8c8c8" stroke-width="0.7" stroke-linejoin="round" stroke-linecap="butt" stroke-opacity="0.6"/>
<polyline points="53.8,121.6 55.4,117.8 57.0,112.8 59.4,97.9 61.0,86.8 62.6,77.2 65.0,58.9 67.3,38.7 70.5,44.4 72.9,50.6 76.1,58.8" fill="none" stroke="#c8c8c8" stroke-width="0.7" stroke-linejoin="round" stroke-linecap="butt" stroke-opacity="0.6"/>
<polyline points="53.8,130.9 55.4,129.6 57.0,119.4 59.4,104.1 61.0,96.9 62.6,85.1 65.0,67.5 67.3,46.5 70.5,53.4 72.9,59.6 76.1,67.9" fill="none" stroke="#c8c8c8" stroke-width="0.7" stroke-linejoin="round" stroke-linecap="butt" stroke-opacity="0.6"/>
<polyline points="53.8,112.7 55.4,110.9 57.0,103.2 59.4,88.1 61.0,71.6 62.6,61.5 65.0,65.8 67.3,70.3 70.5,76.2 72.9,80.6 76.1,86.5 101.6,87.9 125.5,92.9" fill="none" stroke="#c8c8c8" stroke-width="0.7" stroke-linejoin="round" stroke-linecap="butt" stroke-opacity="0.6"/>
<polyline points="53.8,108.1 55.4,106.0 57.0,95.4 59.4,84.2 61.0,78.3 62.6,67.9 65.0,69.4 67.3,72.4 70.5,76.4 72.9,79.4 76.1,83.4 101.6,86.7 125.5,92.1" fill="none" stroke="#c8c8c8" stroke-width="0.7" stroke-linejoin="round" stroke-linecap="butt" stroke-opacity="0.6"/>
<polyline points="53.8,136.0 55.4,122.5 57.0,105.4 59.4,70.9 61.0,49.2 62.6,48.5 65.0,52.2 67.3,55.8 70.5,60.7 72.9,64.4 76.1,69.2" fill="none" stroke="#c8c8c8" stroke-width="0.7" stroke-linejoin="round" stroke-linecap="butt" stroke-opacity="0.6"/>
<polyline points="53.8,134.2 55.4,123.0 57.0,109.6 59.4,85.9 61.0,69.2 62.6,42.2 65.0,48.4 67.3,52.8 70.5,58.6 72.9,63.0 76.1,68.8" fill="none" stroke="#c8c8c8" stroke-width="0.7" stroke-linejoin="round" stroke-linecap="butt" stroke-opacity="0.6"/>
<polyline points="53.8,107.5 55.4,104.0 57.0,100.3 59.4,92.4 61.0,90.1 62.6,82.5 65.0,76.2 67.3,68.0 70.5,48.3 72.9,57.9 76.1,68.4" fill="none" stroke="#c8c8c8" stroke-width="0.7" stroke-linejoin="round" stroke-linecap="butt" stroke-opacity="0.6"/>
<polyline points="53.8,105.8 55.4,103.1 57.0,99.8 59.4,93.9 61.0,89.6 62.6,80.9 65.0,69.8 67.3,64.0 70.5,47.7 72.9,49.7 76.1,54.7" fill="none" stroke="#c8c8c8" stroke-width="0.7" stroke-linejoin="round" stroke-linecap="butt" stroke-opacity="0.6"/>
<polyline points="53.8,127.1 55.4,110.0 57.0,84.8 59.4,40.1 61.0,41.3 62.6,44.9 65.0,50.3 67.3,55.7 70.5,62.9 72.9,68.4 76.1,75.6 101.6,84.9" fill="none" stroke="#c8c8c8" stroke-width="0.7" stroke-linejoin="round" stroke-linecap="butt" stroke-opacity="0.6"/>
<polyline points="53.8,114.3 55.4,109.0 57.0,96.4 59.4,84.5 61.0,70.7 62.6,54.4 65.0,30.7 67.3,37.2 70.5,44.5 72.9,49.9 76.1,57.2" fill="none" stroke="#c8c8c8" stroke-width="0.7" stroke-linejoin="round" stroke-linecap="butt" stroke-opacity="0.6"/>
<polyline points="53.8,113.5 55.4,106.2 57.0,98.2 59.4,79.5 61.0,67.2 62.6,72.5 65.0,80.6 67.3,88.6 70.5,99.3 72.9,107.4 76.1,118.1" fill="none" stroke="#c8c8c8" stroke-width="0.7" stroke-linejoin="round" stroke-linecap="butt" stroke-opacity="0.6"/>
<polyline points="53.8,130.2 55.4,117.6 57.0,100.5 59.4,58.9 61.0,64.8 62.6,67.9 65.0,72.5 67.3,77.2 70.5,83.3 72.9,88.0 76.1,94.2" fill="none" stroke="#c8c8c8" stroke-width="0.7" stroke-linejoin="round" stroke-linecap="butt" stroke-opacity="0.6"/>
<polyline points="53.8,115.6 55.4,111.5 57.0,104.6 59.4,86.1 61.0,71.4 62.6,73.5 65.0,77.9 67.3,82.3 70.5,88.2 72.9,92.6 76.1,98.4" fill="none" stroke="#c8c8c8" stroke-width="0.7" stroke-linejoin="round" stroke-linecap="butt" stroke-opacity="0.6"/>
<polyline points="53.8,112.8 55.4,109.5 57.0,97.6 59.4,72.3 61.0,75.2 62.6,77.5 65.0,80.9 67.3,84.3 70.5,88.9 72.9,92.3 76.1,96.9 101.6,102.3" fill="none" stroke="#c8c8c8" stroke-width="0.7" stroke-linejoin="round" stroke-linecap="butt" stroke-opacity="0.6"/>
<polyline points="53.8,115.3 55.4,100.8 57.0,81.4 59.4,35.5 61.0,40.8 62.6,44.2 65.0,49.4 67.3,54.6 70.5,61.4 72.9,66.6 76.1,73.5" fill="none" stroke="#c8c8c8" stroke-width="0.7" stroke-linejoin="round" stroke-linecap="butt" stroke-opacity="0.6"/>
<polyline points="53.8,107.7 55.4,108.4 57.0,107.3 59.4,103.2 61.0,98.6 62.6,97.4 65.0,92.2 67.3,88.5 70.5,76.3 72.9,82.2 76.1,87.2" fill="none" stroke="#c8c8c8" stroke-width="0.7" stroke-linejoin="round" stroke-linecap="butt" stroke-opacity="0.6"/>
<polyline points="53.8,107.0 55.4,97.4 57.0,97.0 59.4,86.7 61.0,79.3 62.6,70.5 65.0,54.9 67.3,38.9 70.5,43.6 72.9,48.6 76.1,55.3" fill="none" stroke="#c8c8c8" stroke-width="0.7" stroke-linejoin="round" stroke-linecap="butt" stroke-opacity="0.6"/>
<polyline points="53.8,132.6 55.4,127.4 57.0,117.3 59.4,95.2 61.0,80.7 62.6,61.8 65.0,31.5 67.3,34.9 70.5,42.5 72.9,48.1 76.1,55.7" fill="none" stroke="#c8c8c8" stroke-width="0.7" stroke-linejoin="round" stroke-linecap="butt" stroke-opacity="0.6"/>
<polyline points="53.8,131.7 55.4,129.8 57.0,124.8 59.4,117.1 61.0,109.2 62.6,105.3 65.0,88.3 67.3,79.6 70.5,58.2 72.9,65.5 76.1,71.3" fill="none" stroke="#c8c8c8" stroke-width="0.7" stroke-linejoin="round" stroke-linecap="butt" stroke-opacity="0.6"/>
<polyline points="53.8,105.8 55.4,106.4 57.0,101.7 59.4,95.7 61.0,85.1 62.6,85.1 65.0,70.4 67.3,60.1 70.5,43.4 72.9,48.3 76.1,53.4" fill="none" stroke="#c8c8c8" stroke-width="0.7" stroke-linejoin="round" stroke-linecap="butt" stroke-opacity="0.6"/>
<polyline points="53.8,114.0 55.4,110.5 57.0,95.6 59.4,82.1 61.0,66.9 62.6,56.4 65.0,32.6 67.3,34.7 70.5,40.0 72.9,44.0 76.1,49.4 101.6,57.6" fill="none" stroke="#c8c8c8" stroke-width="0.7" stroke-linejoin="round" stroke-linecap="butt" stroke-opacity="0.6"/>
<polyline points="53.8,112.8 55.4,107.6 57.0,101.5 59.4,98.3 61.0,94.6 62.6,91.0 65.0,82.5 67.3,67.7 70.5,56.7 72.9,62.0 76.1,69.0" fill="none" stroke="#c8c8c8" stroke-width="0.7" stroke-linejoin="round" stroke-linecap="butt" stroke-opacity="0.6"/>
<polyline points="55.5,122.0 57.5,27.0" fill="none" stroke="#cfcfcf" stroke-width="0.9" stroke-linejoin="round" stroke-linecap="butt" stroke-opacity="0.7"/>
<polyline points="56.5,122.0 58.5,32.0" fill="none" stroke="#cfcfcf" stroke-width="0.9" stroke-linejoin="round" stroke-linecap="butt" stroke-opacity="0.7"/>
<polyline points="57.5,122.0 60.0,26.0" fill="none" stroke="#cfcfcf" stroke-width="0.9" stroke-linejoin="round" stroke-linecap="butt" stroke-opacity="0.7"/>
<polyline points="58.5,122.0 61.0,35.0" fill="none" stroke="#cfcfcf" stroke-width="0.9" stroke-linejoin="round" stroke-linecap="butt" stroke-opacity="0.7"/>
<polyline points="59.5,122.0 62.5,28.0" fill="none" stroke="#cfcfcf" stroke-width="0.9" stroke-linejoin="round" stroke-linecap="butt" stroke-opacity="0.7"/>
<polyline points="60.5,122.0 63.0,40.0" fill="none" stroke="#cfcfcf" stroke-width="0.9" stroke-linejoin="round" stroke-linecap="butt" stroke-opacity="0.7"/>
<polyline points="57.0,122.0 59.0,45.0" fill="none" stroke="#cfcfcf" stroke-width="0.9" stroke-linejoin="round" stroke-linecap="butt" stroke-opacity="0.7"/>
<polyline points="61.5,122.0 64.0,30.0" fill="none" stroke="#cfcfcf" stroke-width="0.9" stroke-linejoin="round" stroke-linecap="butt" stroke-opacity="0.7"/>
<polyline points="76.1,40.0 89.7,42.0 101.6,44.0" fill="none" stroke="#d2d2d2" stroke-width="0.7" stroke-linejoin="round" stroke-linecap="butt"/>
<polyline points="76.1,45.8 125.5,53.6 198.2,58.8" fill="none" stroke="#d2d2d2" stroke-width="0.7" stroke-linejoin="round" stroke-linecap="butt"/>
<polyline points="125.5,80.8 198.2,41.9" fill="none" stroke="#d2d2d2" stroke-width="0.7" stroke-linejoin="round" stroke-linecap="butt"/>
<polyline points="95.6,47.0 125.5,62.7" fill="none" stroke="#d2d2d2" stroke-width="0.7" stroke-linejoin="round" stroke-linecap="butt"/>
<polyline points="80.0,70.0 100.0,85.0 125.5,103.0" fill="none" stroke="#d2d2d2" stroke-width="0.7" stroke-linejoin="round" stroke-linecap="butt"/>
<polyline points="85.0,75.0 125.5,101.0" fill="none" stroke="#d2d2d2" stroke-width="0.7" stroke-linejoin="round" stroke-linecap="butt"/>
<polyline points="101.6,72.0 125.5,75.6 198.2,79.5" fill="none" stroke="#d2d2d2" stroke-width="0.7" stroke-linejoin="round" stroke-linecap="butt"/>
<polyline points="76.1,52.0 101.6,66.0 125.5,92.0" fill="none" stroke="#d2d2d2" stroke-width="0.7" stroke-linejoin="round" stroke-linecap="butt"/>
<polyline points="70.5,45.0 87.3,50.0 125.5,62.0" fill="none" stroke="#d2d2d2" stroke-width="0.7" stroke-linejoin="round" stroke-linecap="butt"/>
<polyline points="65.0,27.0 76.1,30.0 81.7,38.0" fill="none" stroke="#d2d2d2" stroke-width="0.7" stroke-linejoin="round" stroke-linecap="butt"/>
<polyline points="62.6,28.0 70.5,26.0" fill="none" stroke="#d2d2d2" stroke-width="0.7" stroke-linejoin="round" stroke-linecap="butt"/>
<polyline points="76.1,60.0 101.6,80.0 125.5,95.0" fill="none" stroke="#d2d2d2" stroke-width="0.7" stroke-linejoin="round" stroke-linecap="butt"/>
</g>
<line x1="75.50" y1="60.00" x2="75.50" y2="107.30" stroke="#3a9e48" stroke-width="0.9"/>
<line x1="78.20" y1="47.50" x2="78.20" y2="105.00" stroke="#3a9e48" stroke-width="0.9"/>
<line x1="86.60" y1="75.00" x2="86.60" y2="96.90" stroke="#3a9e48" stroke-width="0.9"/>
<line x1="92.40" y1="60.00" x2="92.40" y2="114.20" stroke="#3a9e48" stroke-width="0.9"/>
<line x1="101.30" y1="62.00" x2="101.30" y2="107.30" stroke="#3a9e48" stroke-width="0.9"/>
<line x1="125.50" y1="79.00" x2="125.50" y2="112.00" stroke="#3a9e48" stroke-width="0.9"/>
<line x1="197.30" y1="76.00" x2="197.30" y2="99.00" stroke="#3a9e48" stroke-width="0.9"/>
<line x1="61.80" y1="80.00" x2="61.80" y2="112.00" stroke="#3a9e48" stroke-width="0.9"/>
<line x1="64.20" y1="72.00" x2="64.20" y2="114.00" stroke="#3a9e48" stroke-width="0.9"/>
<line x1="67.00" y1="66.00" x2="67.00" y2="112.00" stroke="#3a9e48" stroke-width="0.9"/>
<line x1="70.50" y1="64.00" x2="70.50" y2="110.00" stroke="#3a9e48" stroke-width="0.9"/>
<line x1="72.40" y1="62.00" x2="72.40" y2="106.00" stroke="#3a9e48" stroke-width="0.9"/>
<line x1="63.80" y1="37.10" x2="63.80" y2="70.00" stroke="#cf3b32" stroke-width="0.9"/>
<line x1="66.70" y1="33.70" x2="66.70" y2="72.00" stroke="#cf3b32" stroke-width="0.9"/>
<line x1="69.60" y1="36.00" x2="69.60" y2="76.00" stroke="#cf3b32" stroke-width="0.9"/>
<line x1="72.30" y1="36.00" x2="72.30" y2="79.00" stroke="#cf3b32" stroke-width="0.9"/>
<line x1="75.40" y1="35.20" x2="75.40" y2="71.00" stroke="#cf3b32" stroke-width="0.9"/>
<line x1="78.00" y1="48.00" x2="78.00" y2="79.00" stroke="#cf3b32" stroke-width="0.9"/>
<line x1="81.20" y1="41.70" x2="81.20" y2="71.20" stroke="#cf3b32" stroke-width="0.9"/>
<line x1="86.70" y1="46.30" x2="86.70" y2="82.70" stroke="#cf3b32" stroke-width="0.9"/>
<line x1="92.50" y1="48.00" x2="92.50" y2="84.00" stroke="#cf3b32" stroke-width="0.9"/>
<line x1="101.30" y1="57.90" x2="101.30" y2="93.00" stroke="#cf3b32" stroke-width="0.9"/>
<line x1="125.50" y1="66.00" x2="125.50" y2="101.00" stroke="#cf3b32" stroke-width="0.9"/>
<line x1="197.30" y1="57.00" x2="197.30" y2="106.30" stroke="#cf3b32" stroke-width="0.9"/>
<line x1="58.60" y1="96.00" x2="58.60" y2="110.00" stroke="#23a0d6" stroke-width="1.0"/>
<line x1="62.20" y1="82.00" x2="62.20" y2="114.00" stroke="#23a0d6" stroke-width="1.0"/>
<line x1="64.80" y1="54.00" x2="64.80" y2="115.00" stroke="#23a0d6" stroke-width="1.0"/>
<line x1="67.60" y1="50.00" x2="67.60" y2="114.00" stroke="#23a0d6" stroke-width="1.0"/>
<line x1="70.20" y1="56.00" x2="70.20" y2="113.00" stroke="#23a0d6" stroke-width="1.0"/>
<line x1="73.00" y1="60.00" x2="73.00" y2="110.00" stroke="#23a0d6" stroke-width="1.0"/>
<line x1="75.90" y1="88.00" x2="75.90" y2="108.00" stroke="#23a0d6" stroke-width="1.0"/>
<line x1="78.60" y1="92.00" x2="78.60" y2="104.00" stroke="#23a0d6" stroke-width="1.0"/>
<line x1="81.90" y1="100.40" x2="81.90" y2="108.50" stroke="#23a0d6" stroke-width="1.0"/>
<g clip-path="url(#cA1)">
<polyline points="53.2,105.4 56.7,103.3 59.0,103.3 61.8,96.9 63.6,87.7 67.0,77.3 70.5,80.2 72.4,81.3 75.5,100.4 78.2,99.8 81.5,106.0 86.6,113.3 92.4,113.3 101.3,111.2 125.5,113.4 197.3,112.0" fill="none" stroke="#23a0d6" stroke-width="1.1" stroke-linejoin="round" stroke-linecap="butt"/>
<circle cx="53.2" cy="105.4" r="1.7" fill="#23a0d6"/>
<circle cx="56.7" cy="103.3" r="1.7" fill="#23a0d6"/>
<circle cx="59.0" cy="103.3" r="1.7" fill="#23a0d6"/>
<circle cx="61.8" cy="96.9" r="1.7" fill="#23a0d6"/>
<circle cx="63.6" cy="87.7" r="1.7" fill="#23a0d6"/>
<circle cx="67.0" cy="77.3" r="1.7" fill="#23a0d6"/>
<circle cx="70.5" cy="80.2" r="1.7" fill="#23a0d6"/>
<circle cx="72.4" cy="81.3" r="1.7" fill="#23a0d6"/>
<circle cx="75.5" cy="100.4" r="1.7" fill="#23a0d6"/>
<circle cx="78.2" cy="99.8" r="1.7" fill="#23a0d6"/>
<circle cx="81.5" cy="106.0" r="1.7" fill="#23a0d6"/>
<circle cx="86.6" cy="113.3" r="1.7" fill="#23a0d6"/>
<circle cx="92.4" cy="113.3" r="1.7" fill="#23a0d6"/>
<circle cx="101.3" cy="111.2" r="1.7" fill="#23a0d6"/>
<circle cx="125.5" cy="113.4" r="1.7" fill="#23a0d6"/>
<circle cx="197.3" cy="112.0" r="1.7" fill="#23a0d6"/>
<polyline points="52.8,106.0 56.0,101.5 58.6,94.0 61.8,99.5 64.0,88.0 67.0,82.0 70.5,79.6 72.4,80.2 75.5,87.1 78.2,83.7 81.5,96.7 86.6,88.3 92.4,95.4 101.3,95.6 125.5,95.6 197.3,87.4" fill="none" stroke="#3a9e48" stroke-width="1.1" stroke-linejoin="round" stroke-linecap="butt"/>
<circle cx="52.8" cy="106.0" r="1.7" fill="#3a9e48"/>
<circle cx="56.0" cy="101.5" r="1.7" fill="#3a9e48"/>
<circle cx="58.6" cy="94.0" r="1.7" fill="#3a9e48"/>
<circle cx="61.8" cy="99.5" r="1.7" fill="#3a9e48"/>
<circle cx="64.0" cy="88.0" r="1.7" fill="#3a9e48"/>
<circle cx="67.0" cy="82.0" r="1.7" fill="#3a9e48"/>
<circle cx="70.5" cy="79.6" r="1.7" fill="#3a9e48"/>
<circle cx="72.4" cy="80.2" r="1.7" fill="#3a9e48"/>
<circle cx="75.5" cy="87.1" r="1.7" fill="#3a9e48"/>
<circle cx="78.2" cy="83.7" r="1.7" fill="#3a9e48"/>
<circle cx="81.5" cy="96.7" r="1.7" fill="#3a9e48"/>
<circle cx="86.6" cy="88.3" r="1.7" fill="#3a9e48"/>
<circle cx="92.4" cy="95.4" r="1.7" fill="#3a9e48"/>
<circle cx="101.3" cy="95.6" r="1.7" fill="#3a9e48"/>
<circle cx="125.5" cy="95.6" r="1.7" fill="#3a9e48"/>
<circle cx="197.3" cy="87.4" r="1.7" fill="#3a9e48"/>
<polyline points="52.9,99.7 58.4,94.0 61.6,71.0 63.8,51.3 67.0,51.3 69.6,55.2 72.5,56.7 75.4,59.4 78.0,68.3 81.3,57.3 86.7,63.6 92.5,65.2 101.3,75.2 125.5,83.8 197.3,81.6" fill="none" stroke="#cf3b32" stroke-width="1.1" stroke-linejoin="round" stroke-linecap="butt"/>
<circle cx="52.9" cy="99.7" r="1.7" fill="#cf3b32"/>
<circle cx="58.4" cy="94.0" r="1.7" fill="#cf3b32"/>
<circle cx="61.6" cy="71.0" r="1.7" fill="#cf3b32"/>
<circle cx="63.8" cy="51.3" r="1.7" fill="#cf3b32"/>
<circle cx="67.0" cy="51.3" r="1.7" fill="#cf3b32"/>
<circle cx="69.6" cy="55.2" r="1.7" fill="#cf3b32"/>
<circle cx="72.5" cy="56.7" r="1.7" fill="#cf3b32"/>
<circle cx="75.4" cy="59.4" r="1.7" fill="#cf3b32"/>
<circle cx="78.0" cy="68.3" r="1.7" fill="#cf3b32"/>
<circle cx="81.3" cy="57.3" r="1.7" fill="#cf3b32"/>
<circle cx="86.7" cy="63.6" r="1.7" fill="#cf3b32"/>
<circle cx="92.5" cy="65.2" r="1.7" fill="#cf3b32"/>
<circle cx="101.3" cy="75.2" r="1.7" fill="#cf3b32"/>
<circle cx="125.5" cy="83.8" r="1.7" fill="#cf3b32"/>
<circle cx="197.3" cy="81.6" r="1.7" fill="#cf3b32"/>
</g>
<line x1="46.00" y1="83.40" x2="213.00" y2="83.40" stroke="#333" stroke-width="0.8" stroke-dasharray="1.2,1.4"/>
<text x="46.9" y="79.1" font-size="6.2" text-anchor="start" fill="#1c1c1c" stroke="#1c1c1c" stroke-width="0.18" >LOQ</text>
<g clip-path="url(#cA2)">
<polyline points="335.1,93.2 336.7,92.7 339.0,85.7 340.6,82.8 342.2,78.4 344.6,73.2 346.9,65.7 350.1,76.1 355.6,87.1 380.9,85.3 404.7,85.6 475.8,85.9" fill="none" stroke="#c8c8c8" stroke-width="0.55" stroke-linejoin="round" stroke-linecap="butt" stroke-opacity="0.42"/>
<polyline points="335.1,83.7 336.7,76.4 339.0,60.8 340.6,52.0 342.2,40.3 350.1,50.9 355.6,64.0 380.9,63.1" fill="none" stroke="#c8c8c8" stroke-width="0.55" stroke-linejoin="round" stroke-linecap="butt" stroke-opacity="0.42"/>
<polyline points="334.3,83.3 336.7,66.6 339.0,43.5 350.1,57.2 355.6,66.5" fill="none" stroke="#c8c8c8" stroke-width="0.55" stroke-linejoin="round" stroke-linecap="butt" stroke-opacity="0.42"/>
<polyline points="334.3,79.4 336.7,70.7 339.0,61.0 340.6,53.5 342.2,43.4 344.6,32.2 350.1,47.0 355.6,58.2 380.9,60.4 404.7,60.1 475.8,62.2" fill="none" stroke="#c8c8c8" stroke-width="0.55" stroke-linejoin="round" stroke-linecap="butt" stroke-opacity="0.42"/>
<polyline points="334.3,116.2 336.7,96.7 339.0,71.4 340.6,56.5 342.2,36.6 350.1,56.8 355.6,76.0 380.9,77.4 404.7,77.3 475.8,81.8" fill="none" stroke="#c8c8c8" stroke-width="0.55" stroke-linejoin="round" stroke-linecap="butt" stroke-opacity="0.42"/>
<polyline points="334.3,77.5 336.7,69.4 339.0,55.9 340.6,47.3 342.2,37.4 344.6,20.0 350.1,38.7 355.6,53.9 380.9,52.2 404.7,55.7 475.8,58.1" fill="none" stroke="#c8c8c8" stroke-width="0.55" stroke-linejoin="round" stroke-linecap="butt" stroke-opacity="0.42"/>
<polyline points="334.3,109.4 336.7,89.7 339.0,65.8 340.6,50.3 350.1,66.8 355.6,80.7 380.9,80.9 404.7,85.9 475.8,88.5" fill="none" stroke="#c8c8c8" stroke-width="0.55" stroke-linejoin="round" stroke-linecap="butt" stroke-opacity="0.42"/>
<polyline points="334.3,66.8 336.7,63.8 339.0,56.3 340.6,50.7 350.1,66.2 355.6,78.5 380.9,79.0 404.7,78.5 475.8,83.3" fill="none" stroke="#c8c8c8" stroke-width="0.55" stroke-linejoin="round" stroke-linecap="butt" stroke-opacity="0.42"/>
<polyline points="335.1,73.2 336.7,72.8 339.0,71.7 340.6,69.8 342.2,69.8 350.1,77.6 355.6,85.0 380.9,86.9 404.7,85.0 475.8,86.4" fill="none" stroke="#c8c8c8" stroke-width="0.55" stroke-linejoin="round" stroke-linecap="butt" stroke-opacity="0.42"/>
<polyline points="333.5,67.7 336.7,63.7 339.0,60.0 340.6,58.7 342.2,57.6 344.6,52.3 350.1,69.7 355.6,80.9 380.9,84.0" fill="none" stroke="#c8c8c8" stroke-width="0.55" stroke-linejoin="round" stroke-linecap="butt" stroke-opacity="0.42"/>
<polyline points="333.5,113.2 336.7,92.3 339.0,73.6 340.6,59.3 350.1,72.1 355.6,80.6 380.9,85.4 404.7,90.4 475.8,87.5" fill="none" stroke="#c8c8c8" stroke-width="0.55" stroke-linejoin="round" stroke-linecap="butt" stroke-opacity="0.42"/>
<polyline points="335.1,119.5 336.7,89.9 339.0,29.8 350.1,52.0 355.6,70.5 380.9,72.1 404.7,74.4 475.8,80.3" fill="none" stroke="#c8c8c8" stroke-width="0.55" stroke-linejoin="round" stroke-linecap="butt" stroke-opacity="0.42"/>
<polyline points="335.1,100.5 336.7,92.8 339.0,72.4 340.6,58.7 342.2,47.3 350.1,62.1 355.6,73.5" fill="none" stroke="#c8c8c8" stroke-width="0.55" stroke-linejoin="round" stroke-linecap="butt" stroke-opacity="0.42"/>
<polyline points="334.3,83.8 336.7,70.7 339.0,54.2 350.1,64.3 355.6,75.5 380.9,77.2 404.7,75.9 475.8,81.5" fill="none" stroke="#c8c8c8" stroke-width="0.55" stroke-linejoin="round" stroke-linecap="butt" stroke-opacity="0.42"/>
<polyline points="335.1,119.4 336.7,101.6 339.0,70.6 340.6,47.8 342.2,21.7 350.1,44.9 355.6,63.2 380.9,63.6 404.7,64.7 475.8,63.4" fill="none" stroke="#c8c8c8" stroke-width="0.55" stroke-linejoin="round" stroke-linecap="butt" stroke-opacity="0.42"/>
<polyline points="333.5,93.1 336.7,76.7 339.0,63.5 340.6,52.2 342.2,40.0 350.1,51.0 355.6,64.9 380.9,67.1" fill="none" stroke="#c8c8c8" stroke-width="0.55" stroke-linejoin="round" stroke-linecap="butt" stroke-opacity="0.42"/>
<polyline points="333.5,115.8 336.7,110.8 339.0,104.3 340.6,98.5 342.2,93.9 344.6,86.1 346.9,77.1 350.1,83.6 355.6,90.3 380.9,93.0 404.7,91.7 475.8,88.0" fill="none" stroke="#c8c8c8" stroke-width="0.55" stroke-linejoin="round" stroke-linecap="butt" stroke-opacity="0.42"/>
<polyline points="334.3,73.7 336.7,63.0 339.0,43.8 350.1,59.1 355.6,71.8 380.9,70.8 404.7,75.8 475.8,80.8" fill="none" stroke="#c8c8c8" stroke-width="0.55" stroke-linejoin="round" stroke-linecap="butt" stroke-opacity="0.42"/>
<polyline points="333.5,76.0 336.7,54.7 339.0,31.9 340.6,14.1 350.1,34.1 355.6,52.7 380.9,57.3 404.7,60.9" fill="none" stroke="#c8c8c8" stroke-width="0.55" stroke-linejoin="round" stroke-linecap="butt" stroke-opacity="0.42"/>
<polyline points="334.3,118.7 336.7,106.7 339.0,88.6 340.6,74.1 342.2,61.4 344.6,38.9 350.1,52.8 355.6,70.4 380.9,74.3 404.7,72.9" fill="none" stroke="#c8c8c8" stroke-width="0.55" stroke-linejoin="round" stroke-linecap="butt" stroke-opacity="0.42"/>
<polyline points="334.3,113.3 336.7,102.3 339.0,93.6 340.6,83.5 342.2,74.4 350.1,80.7 355.6,89.7" fill="none" stroke="#c8c8c8" stroke-width="0.55" stroke-linejoin="round" stroke-linecap="butt" stroke-opacity="0.42"/>
<polyline points="335.1,74.1 336.7,72.2 339.0,63.0 340.6,56.1 342.2,50.1 344.6,38.5 346.9,24.9 350.1,41.8 355.6,54.7" fill="none" stroke="#c8c8c8" stroke-width="0.55" stroke-linejoin="round" stroke-linecap="butt" stroke-opacity="0.42"/>
<polyline points="333.5,94.0 336.7,80.6 339.0,71.0 340.6,64.3 342.2,54.5 350.1,63.4 355.6,76.5 380.9,78.0 404.7,75.4 475.8,72.6" fill="none" stroke="#c8c8c8" stroke-width="0.55" stroke-linejoin="round" stroke-linecap="butt" stroke-opacity="0.42"/>
<polyline points="334.3,82.1 336.7,72.8 339.0,61.0 340.6,53.6 342.2,44.3 344.6,29.5 350.1,48.9 355.6,63.9 380.9,65.0 404.7,63.2 475.8,67.0" fill="none" stroke="#c8c8c8" stroke-width="0.55" stroke-linejoin="round" stroke-linecap="butt" stroke-opacity="0.42"/>
<polyline points="333.5,106.7 336.7,86.9 339.0,66.5 340.6,53.0 342.2,36.7 344.6,12.8 350.1,35.2 355.6,52.7 380.9,50.4 404.7,51.5 475.8,53.8" fill="none" stroke="#c8c8c8" stroke-width="0.55" stroke-linejoin="round" stroke-linecap="butt" stroke-opacity="0.42"/>
<polyline points="333.5,112.2 336.7,101.2 339.0,87.3 340.6,78.8 342.2,67.8 344.6,53.2 350.1,67.8 355.6,80.7 380.9,84.9 404.7,86.7 475.8,84.7" fill="none" stroke="#c8c8c8" stroke-width="0.55" stroke-linejoin="round" stroke-linecap="butt" stroke-opacity="0.42"/>
<polyline points="333.5,95.5 336.7,83.8 339.0,68.4 340.6,61.0 350.1,73.1 355.6,83.8 380.9,83.7 404.7,86.3 475.8,89.1" fill="none" stroke="#c8c8c8" stroke-width="0.55" stroke-linejoin="round" stroke-linecap="butt" stroke-opacity="0.42"/>
<polyline points="335.1,93.7 336.7,76.0 339.0,43.8 350.1,59.3 355.6,76.0 380.9,77.7 404.7,80.0 475.8,82.1" fill="none" stroke="#c8c8c8" stroke-width="0.55" stroke-linejoin="round" stroke-linecap="butt" stroke-opacity="0.42"/>
<polyline points="333.5,90.6 336.7,78.1 339.0,67.9 340.6,59.2 342.2,52.9 344.6,38.3 350.1,50.1 355.6,65.2 380.9,67.9 404.7,70.6" fill="none" stroke="#c8c8c8" stroke-width="0.55" stroke-linejoin="round" stroke-linecap="butt" stroke-opacity="0.42"/>
<polyline points="333.5,70.5 336.7,59.2 339.0,46.3 340.6,36.0 350.1,49.9 355.6,68.8 380.9,69.7 404.7,69.4 475.8,73.8" fill="none" stroke="#c8c8c8" stroke-width="0.55" stroke-linejoin="round" stroke-linecap="butt" stroke-opacity="0.42"/>
<polyline points="334.3,83.9 336.7,75.8 339.0,66.1 340.6,60.4 342.2,53.0 344.6,43.8 350.1,62.3 355.6,77.6 380.9,82.5 404.7,83.3 475.8,84.5" fill="none" stroke="#c8c8c8" stroke-width="0.55" stroke-linejoin="round" stroke-linecap="butt" stroke-opacity="0.42"/>
<polyline points="333.5,110.1 336.7,86.6 339.0,65.6 340.6,50.9 350.1,69.1 355.6,81.5 380.9,79.3 404.7,80.9 475.8,79.4" fill="none" stroke="#c8c8c8" stroke-width="0.55" stroke-linejoin="round" stroke-linecap="butt" stroke-opacity="0.42"/>
<polyline points="334.3,109.6 336.7,97.2 339.0,83.5 340.6,75.9 342.2,64.9 350.1,74.0 355.6,82.3" fill="none" stroke="#c8c8c8" stroke-width="0.55" stroke-linejoin="round" stroke-linecap="butt" stroke-opacity="0.42"/>
<polyline points="335.1,75.1 336.7,63.3 339.0,39.6 350.1,57.0 355.6,69.8 380.9,70.4 404.7,72.9" fill="none" stroke="#c8c8c8" stroke-width="0.55" stroke-linejoin="round" stroke-linecap="butt" stroke-opacity="0.42"/>
<polyline points="334.3,76.7 336.7,60.4 339.0,39.4 340.6,25.1 350.1,45.4 355.6,62.9 380.9,66.4 404.7,70.1 475.8,68.4" fill="none" stroke="#c8c8c8" stroke-width="0.55" stroke-linejoin="round" stroke-linecap="butt" stroke-opacity="0.42"/>
<polyline points="334.3,117.3 336.7,77.5 339.0,28.2 350.1,44.5 355.6,66.9 380.9,69.7" fill="none" stroke="#c8c8c8" stroke-width="0.55" stroke-linejoin="round" stroke-linecap="butt" stroke-opacity="0.42"/>
<polyline points="335.1,86.0 336.7,75.7 339.0,56.2 340.6,43.5 342.2,28.6 350.1,47.9 355.6,67.8" fill="none" stroke="#c8c8c8" stroke-width="0.55" stroke-linejoin="round" stroke-linecap="butt" stroke-opacity="0.42"/>
<polyline points="334.3,105.7 336.7,89.3 339.0,66.5 340.6,52.1 342.2,34.3 350.1,49.2 355.6,65.7" fill="none" stroke="#c8c8c8" stroke-width="0.55" stroke-linejoin="round" stroke-linecap="butt" stroke-opacity="0.42"/>
<polyline points="334.3,67.1 336.7,59.6 339.0,50.6 340.6,43.5 342.2,36.9 350.1,53.9 355.6,69.7 380.9,70.7 404.7,72.1 475.8,75.7" fill="none" stroke="#c8c8c8" stroke-width="0.55" stroke-linejoin="round" stroke-linecap="butt" stroke-opacity="0.42"/>
<polyline points="334.3,82.3 336.7,74.6 339.0,68.1 340.6,62.8 342.2,58.1 344.6,48.7 350.1,65.9 355.6,80.7 380.9,82.7 404.7,83.4 475.8,82.4" fill="none" stroke="#c8c8c8" stroke-width="0.55" stroke-linejoin="round" stroke-linecap="butt" stroke-opacity="0.42"/>
<polyline points="333.5,95.1 336.7,83.3 339.0,70.1 340.6,61.8 342.2,55.8 344.6,40.2 350.1,57.1 355.6,74.7 380.9,79.4 404.7,81.3 475.8,86.5" fill="none" stroke="#c8c8c8" stroke-width="0.55" stroke-linejoin="round" stroke-linecap="butt" stroke-opacity="0.42"/>
<polyline points="333.5,91.4 336.7,81.8 339.0,71.1 340.6,63.5 342.2,56.0 350.1,67.7 355.6,77.6 380.9,77.0 404.7,75.9 475.8,80.9" fill="none" stroke="#c8c8c8" stroke-width="0.55" stroke-linejoin="round" stroke-linecap="butt" stroke-opacity="0.42"/>
<polyline points="335.1,71.0 336.7,67.2 339.0,58.3 340.6,50.2 342.2,43.3 344.6,31.7 350.1,46.4 355.6,63.5 380.9,67.2 404.7,70.4 475.8,66.7" fill="none" stroke="#c8c8c8" stroke-width="0.55" stroke-linejoin="round" stroke-linecap="butt" stroke-opacity="0.42"/>
<polyline points="333.5,118.7 336.7,98.9 339.0,81.3 340.6,68.1 342.2,53.8 344.6,32.0 350.1,44.1 355.6,61.1 380.9,64.9 404.7,68.3 475.8,64.6" fill="none" stroke="#c8c8c8" stroke-width="0.55" stroke-linejoin="round" stroke-linecap="butt" stroke-opacity="0.42"/>
<polyline points="333.5,78.4 336.7,72.1 339.0,63.8 340.6,58.6 342.2,53.5 350.1,65.3 355.6,78.8 380.9,80.9 404.7,84.9 475.8,89.7" fill="none" stroke="#c8c8c8" stroke-width="0.55" stroke-linejoin="round" stroke-linecap="butt" stroke-opacity="0.42"/>
<polyline points="335.1,101.1 336.7,92.9 339.0,78.8 340.6,65.4 342.2,52.9 344.6,33.2 350.1,50.9 355.6,69.2 380.9,71.0 404.7,71.8 475.8,69.8" fill="none" stroke="#c8c8c8" stroke-width="0.55" stroke-linejoin="round" stroke-linecap="butt" stroke-opacity="0.42"/>
<polyline points="335.1,107.6 336.7,96.8 339.0,76.4 340.6,59.9 342.2,44.6 350.1,57.2 355.6,67.5 380.9,67.5 404.7,70.2 475.8,67.3" fill="none" stroke="#c8c8c8" stroke-width="0.55" stroke-linejoin="round" stroke-linecap="butt" stroke-opacity="0.42"/>
<polyline points="335.1,87.5 336.7,82.1 339.0,67.3 340.6,58.6 342.2,47.7 350.1,59.1 355.6,75.5 380.9,73.7 404.7,76.9 475.8,79.6" fill="none" stroke="#c8c8c8" stroke-width="0.55" stroke-linejoin="round" stroke-linecap="butt" stroke-opacity="0.42"/>
<polyline points="335.1,76.4 336.7,72.3 339.0,66.3 340.6,60.3 342.2,55.8 350.1,67.9 355.6,82.4 380.9,80.7 404.7,83.7 475.8,89.9" fill="none" stroke="#c8c8c8" stroke-width="0.55" stroke-linejoin="round" stroke-linecap="butt" stroke-opacity="0.42"/>
<polyline points="334.3,109.4 336.7,96.9 339.0,78.9 340.6,68.4 342.2,53.5 344.6,31.6 350.1,54.8 355.6,72.8 380.9,72.3 404.7,70.5 475.8,76.0" fill="none" stroke="#c8c8c8" stroke-width="0.55" stroke-linejoin="round" stroke-linecap="butt" stroke-opacity="0.42"/>
<polyline points="335.1,97.5 336.7,87.9 339.0,72.6 340.6,59.9 342.2,48.4 344.6,28.6 350.1,40.8 355.6,55.3 380.9,56.6 404.7,57.6 475.8,56.6" fill="none" stroke="#c8c8c8" stroke-width="0.55" stroke-linejoin="round" stroke-linecap="butt" stroke-opacity="0.42"/>
<polyline points="335.1,97.7 336.7,74.2 339.0,23.9 350.1,46.3 355.6,68.7" fill="none" stroke="#c8c8c8" stroke-width="0.55" stroke-linejoin="round" stroke-linecap="butt" stroke-opacity="0.42"/>
<polyline points="333.5,104.6 336.7,72.5 339.0,40.5 340.6,16.9 350.1,38.3 355.6,58.4" fill="none" stroke="#c8c8c8" stroke-width="0.55" stroke-linejoin="round" stroke-linecap="butt" stroke-opacity="0.42"/>
<polyline points="333.5,109.7 336.7,90.2 339.0,73.3 340.6,58.1 342.2,42.8 344.6,21.7 350.1,44.0 355.6,65.5 380.9,66.2 404.7,66.7 475.8,68.2" fill="none" stroke="#c8c8c8" stroke-width="0.55" stroke-linejoin="round" stroke-linecap="butt" stroke-opacity="0.42"/>
<polyline points="334.3,109.7 336.7,101.2 339.0,92.6 340.6,84.5 342.2,78.1 350.1,82.7 355.6,91.9 380.9,91.9 404.7,91.1 475.8,96.3" fill="none" stroke="#c8c8c8" stroke-width="0.55" stroke-linejoin="round" stroke-linecap="butt" stroke-opacity="0.42"/>
<polyline points="333.5,115.8 336.7,92.0 339.0,67.7 340.6,50.5 342.2,33.2 350.1,44.4 355.6,58.0 380.9,61.3 404.7,66.3 475.8,67.9" fill="none" stroke="#c8c8c8" stroke-width="0.55" stroke-linejoin="round" stroke-linecap="butt" stroke-opacity="0.42"/>
<polyline points="334.3,73.4 336.7,66.9 339.0,59.3 340.6,51.7 342.2,46.9 344.6,37.1 350.1,50.6 355.6,61.4" fill="none" stroke="#c8c8c8" stroke-width="0.55" stroke-linejoin="round" stroke-linecap="butt" stroke-opacity="0.42"/>
<polyline points="333.5,69.1 336.7,71.4 339.0,70.9 340.6,69.5 342.2,71.5 344.6,70.3 346.9,70.4 350.1,77.0 355.6,84.5 380.9,83.0 404.7,85.8 475.8,84.1" fill="none" stroke="#c8c8c8" stroke-width="0.55" stroke-linejoin="round" stroke-linecap="butt" stroke-opacity="0.42"/>
<polyline points="333.5,95.6 336.7,85.6 339.0,77.1 340.6,68.2 342.2,62.5 344.6,51.2 346.9,40.1 350.1,55.8 355.6,72.4" fill="none" stroke="#c8c8c8" stroke-width="0.55" stroke-linejoin="round" stroke-linecap="butt" stroke-opacity="0.42"/>
<polyline points="335.1,81.6 336.7,76.4 339.0,65.6 340.6,59.2 342.2,49.1 350.1,62.0 355.6,72.6 380.9,73.4 404.7,75.0 475.8,81.3" fill="none" stroke="#c8c8c8" stroke-width="0.55" stroke-linejoin="round" stroke-linecap="butt" stroke-opacity="0.42"/>
<polyline points="335.1,111.6 336.7,103.0 339.0,87.5 340.6,75.3 342.2,62.3 344.6,41.1 350.1,59.6 355.6,74.5 380.9,74.0 404.7,76.6 475.8,73.3" fill="none" stroke="#c8c8c8" stroke-width="0.55" stroke-linejoin="round" stroke-linecap="butt" stroke-opacity="0.42"/>
<polyline points="334.3,83.9 336.7,81.2 339.0,74.6 340.6,70.0 342.2,63.2 344.6,55.3 350.1,69.6 355.6,82.3 380.9,81.0 404.7,81.5" fill="none" stroke="#c8c8c8" stroke-width="0.55" stroke-linejoin="round" stroke-linecap="butt" stroke-opacity="0.42"/>
<polyline points="334.3,76.6 336.7,69.3 339.0,57.5 340.6,48.8 342.2,39.6 350.1,53.7 355.6,65.9 380.9,68.4 404.7,70.4 475.8,76.6" fill="none" stroke="#c8c8c8" stroke-width="0.55" stroke-linejoin="round" stroke-linecap="butt" stroke-opacity="0.42"/>
<polyline points="333.5,101.8 336.7,87.6 339.0,75.8 340.6,65.0 342.2,54.6 344.6,37.5 350.1,57.1 355.6,74.9 380.9,76.1 404.7,75.2 475.8,73.2" fill="none" stroke="#c8c8c8" stroke-width="0.55" stroke-linejoin="round" stroke-linecap="butt" stroke-opacity="0.42"/>
<polyline points="334.3,89.5 336.7,75.6 339.0,57.0 340.6,44.7 342.2,28.3 350.1,41.7 355.6,55.8 380.9,53.8 404.7,54.5 475.8,60.7" fill="none" stroke="#c8c8c8" stroke-width="0.55" stroke-linejoin="round" stroke-linecap="butt" stroke-opacity="0.42"/>
<polyline points="333.5,115.0 336.7,98.7 339.0,83.1 340.6,72.5 342.2,58.2 344.6,41.5 346.9,20.1 350.1,39.8 355.6,60.7" fill="none" stroke="#c8c8c8" stroke-width="0.55" stroke-linejoin="round" stroke-linecap="butt" stroke-opacity="0.42"/>
<polyline points="334.3,65.7 336.7,62.1 339.0,53.3 340.6,50.1 342.2,43.2 344.6,37.2 350.1,50.0 355.6,67.1" fill="none" stroke="#c8c8c8" stroke-width="0.55" stroke-linejoin="round" stroke-linecap="butt" stroke-opacity="0.42"/>
<polyline points="335.1,78.4 336.7,70.5 339.0,58.2 340.6,49.0 350.1,61.7 355.6,74.6" fill="none" stroke="#c8c8c8" stroke-width="0.55" stroke-linejoin="round" stroke-linecap="butt" stroke-opacity="0.42"/>
<polyline points="335.1,111.2 336.7,101.5 339.0,80.7 340.6,69.5 342.2,52.5 350.1,62.9 355.6,75.3 380.9,77.4 404.7,78.7 475.8,84.0" fill="none" stroke="#c8c8c8" stroke-width="0.55" stroke-linejoin="round" stroke-linecap="butt" stroke-opacity="0.42"/>
<polyline points="335.1,69.5 336.7,66.7 339.0,62.0 340.6,56.3 342.2,52.5 344.6,45.5 350.1,61.1 355.6,75.0 380.9,75.8 404.7,74.0 475.8,75.0" fill="none" stroke="#c8c8c8" stroke-width="0.55" stroke-linejoin="round" stroke-linecap="butt" stroke-opacity="0.42"/>
<polyline points="334.3,69.9 336.7,71.1 339.0,73.9 340.6,75.9 342.2,77.2 350.1,84.6 355.6,92.2 380.9,96.8 404.7,100.9 475.8,96.3" fill="none" stroke="#c8c8c8" stroke-width="0.55" stroke-linejoin="round" stroke-linecap="butt" stroke-opacity="0.42"/>
<polyline points="334.3,66.5 336.7,58.3 339.0,47.9 340.6,39.5 342.2,30.6 350.1,51.9 355.6,69.2 380.9,67.4 404.7,65.1 475.8,64.6" fill="none" stroke="#c8c8c8" stroke-width="0.55" stroke-linejoin="round" stroke-linecap="butt" stroke-opacity="0.42"/>
<polyline points="334.3,84.2 336.7,79.3 339.0,76.6 340.6,70.7 350.1,80.6 355.6,90.0 380.9,87.8 404.7,92.9 475.8,96.3" fill="none" stroke="#c8c8c8" stroke-width="0.55" stroke-linejoin="round" stroke-linecap="butt" stroke-opacity="0.42"/>
<polyline points="334.3,108.9 336.7,90.5 339.0,67.5 340.6,49.9 342.2,30.6 350.1,54.2 355.6,72.8 380.9,71.0 404.7,73.7 475.8,75.0" fill="none" stroke="#c8c8c8" stroke-width="0.55" stroke-linejoin="round" stroke-linecap="butt" stroke-opacity="0.42"/>
<polyline points="335.1,107.2 336.7,91.2 339.0,52.7 340.6,26.9 350.1,46.5 355.6,63.1 380.9,61.5 404.7,59.0 475.8,63.3" fill="none" stroke="#c8c8c8" stroke-width="0.55" stroke-linejoin="round" stroke-linecap="butt" stroke-opacity="0.42"/>
<polyline points="333.5,67.9 336.7,61.2 339.0,52.2 340.6,46.4 350.1,63.0 355.6,77.3 380.9,75.7 404.7,78.2 475.8,74.8" fill="none" stroke="#c8c8c8" stroke-width="0.55" stroke-linejoin="round" stroke-linecap="butt" stroke-opacity="0.42"/>
<polyline points="335.1,102.3 336.7,99.2 339.0,89.1 340.6,83.2 342.2,76.9 344.6,66.1 346.9,52.9 350.1,67.7 355.6,77.7 380.9,78.9" fill="none" stroke="#c8c8c8" stroke-width="0.55" stroke-linejoin="round" stroke-linecap="butt" stroke-opacity="0.42"/>
<polyline points="335.1,104.0 336.7,90.2 339.0,62.7 340.6,38.7 350.1,56.1 355.6,76.3 380.9,81.4 404.7,82.0 475.8,82.9" fill="none" stroke="#c8c8c8" stroke-width="0.55" stroke-linejoin="round" stroke-linecap="butt" stroke-opacity="0.42"/>
<polyline points="333.5,109.8 336.7,99.3 339.0,91.2 340.6,82.3 342.2,75.1 344.6,67.0 346.9,54.3 350.1,65.5 355.6,75.6 380.9,73.5 404.7,74.8 475.8,79.4" fill="none" stroke="#c8c8c8" stroke-width="0.55" stroke-linejoin="round" stroke-linecap="butt" stroke-opacity="0.42"/>
<polyline points="334.3,70.0 336.7,65.9 339.0,62.0 340.6,58.6 342.2,53.9 344.6,48.7 350.1,59.9 355.6,75.2 380.9,79.0 404.7,78.1 475.8,82.8" fill="none" stroke="#c8c8c8" stroke-width="0.55" stroke-linejoin="round" stroke-linecap="butt" stroke-opacity="0.42"/>
<polyline points="335.1,104.7 336.7,100.9 339.0,89.0 340.6,81.6 342.2,71.7 344.6,58.1 346.9,44.9 350.1,56.1 355.6,70.9 380.9,71.6" fill="none" stroke="#c8c8c8" stroke-width="0.55" stroke-linejoin="round" stroke-linecap="butt" stroke-opacity="0.42"/>
<polyline points="334.3,86.6 336.7,60.1 339.0,26.2 350.1,51.3 355.6,71.5 380.9,75.2 404.7,75.4 475.8,75.9" fill="none" stroke="#c8c8c8" stroke-width="0.55" stroke-linejoin="round" stroke-linecap="butt" stroke-opacity="0.42"/>
<polyline points="334.3,116.1 336.7,100.3 339.0,79.4 340.6,64.2 342.2,49.1 350.1,61.3 355.6,73.5 380.9,75.7 404.7,78.9 475.8,80.3" fill="none" stroke="#c8c8c8" stroke-width="0.55" stroke-linejoin="round" stroke-linecap="butt" stroke-opacity="0.42"/>
<polyline points="333.5,77.6 336.7,70.9 339.0,64.2 340.6,59.9 342.2,54.6 344.6,50.1 350.1,60.1 355.6,72.2 380.9,76.3 404.7,75.7 475.8,76.8" fill="none" stroke="#c8c8c8" stroke-width="0.55" stroke-linejoin="round" stroke-linecap="butt" stroke-opacity="0.42"/>
<polyline points="334.3,111.6 336.7,97.4 339.0,77.3 340.6,63.6 342.2,50.1 344.6,27.4 350.1,41.0 355.6,55.1 380.9,57.9 404.7,62.1 475.8,59.8" fill="none" stroke="#c8c8c8" stroke-width="0.55" stroke-linejoin="round" stroke-linecap="butt" stroke-opacity="0.42"/>
<polyline points="334.3,69.8 336.7,57.2 339.0,43.5 350.1,62.4 355.6,76.5 380.9,77.2 404.7,74.6 475.8,73.5" fill="none" stroke="#c8c8c8" stroke-width="0.55" stroke-linejoin="round" stroke-linecap="butt" stroke-opacity="0.42"/>
<polyline points="334.3,93.2 336.7,71.1 339.0,39.1 340.6,17.1 350.1,38.3 355.6,58.3 380.9,57.4 404.7,56.3 475.8,57.8" fill="none" stroke="#c8c8c8" stroke-width="0.55" stroke-linejoin="round" stroke-linecap="butt" stroke-opacity="0.42"/>
<polyline points="334.3,94.3 336.7,88.9 339.0,81.6 340.6,77.9 342.2,71.7 344.6,63.2 350.1,75.9 355.6,83.9 380.9,86.9 404.7,84.7 475.8,84.7" fill="none" stroke="#c8c8c8" stroke-width="0.55" stroke-linejoin="round" stroke-linecap="butt" stroke-opacity="0.42"/>
<polyline points="335.1,70.6 336.7,68.2 339.0,62.8 340.6,56.7 342.2,52.2 344.6,47.3 350.1,59.8 355.6,76.9 380.9,81.1 404.7,78.6 475.8,76.4" fill="none" stroke="#c8c8c8" stroke-width="0.55" stroke-linejoin="round" stroke-linecap="butt" stroke-opacity="0.42"/>
<polyline points="334.3,72.7 336.7,69.8 339.0,69.3 340.6,69.5 342.2,67.7 344.6,66.6 346.9,66.0 350.1,76.5 355.6,84.1 380.9,87.6 404.7,89.6 475.8,91.1" fill="none" stroke="#c8c8c8" stroke-width="0.55" stroke-linejoin="round" stroke-linecap="butt" stroke-opacity="0.42"/>
<polyline points="335.1,80.7 336.7,76.8 339.0,72.2 340.6,69.6 342.2,66.1 350.1,76.6 355.6,87.3 380.9,89.7 404.7,94.0 475.8,96.3" fill="none" stroke="#c8c8c8" stroke-width="0.55" stroke-linejoin="round" stroke-linecap="butt" stroke-opacity="0.42"/>
<polyline points="333.5,116.4 336.7,90.8 339.0,67.0 340.6,46.5 350.1,58.5 355.6,71.3 380.9,75.9 404.7,74.5 475.8,75.2" fill="none" stroke="#c8c8c8" stroke-width="0.55" stroke-linejoin="round" stroke-linecap="butt" stroke-opacity="0.42"/>
<polyline points="335.1,107.5 336.7,92.3 339.0,67.3 340.6,45.9 342.2,24.5 350.1,40.0 355.6,53.4 380.9,53.2 404.7,56.6" fill="none" stroke="#c8c8c8" stroke-width="0.55" stroke-linejoin="round" stroke-linecap="butt" stroke-opacity="0.42"/>
<polyline points="335.1,109.7 336.7,102.7 339.0,86.8 340.6,75.0 342.2,63.3 344.6,45.3 346.9,25.9 350.1,41.3 355.6,55.4 380.9,53.5 404.7,51.7 475.8,56.8" fill="none" stroke="#c8c8c8" stroke-width="0.55" stroke-linejoin="round" stroke-linecap="butt" stroke-opacity="0.42"/>
<polyline points="335.1,93.3 336.7,82.4 339.0,62.4 340.6,50.5 342.2,35.2 350.1,52.3 355.6,69.6 380.9,72.4 404.7,71.3 475.8,68.6" fill="none" stroke="#c8c8c8" stroke-width="0.55" stroke-linejoin="round" stroke-linecap="butt" stroke-opacity="0.42"/>
<polyline points="334.3,87.7 336.7,77.6 339.0,68.6 340.6,61.4 342.2,53.4 350.1,63.7 355.6,76.5 380.9,81.1 404.7,85.7 475.8,87.4" fill="none" stroke="#c8c8c8" stroke-width="0.55" stroke-linejoin="round" stroke-linecap="butt" stroke-opacity="0.42"/>
<polyline points="335.1,112.8 336.7,104.7 339.0,89.9 340.6,80.3 342.2,66.8 344.6,49.3 346.9,29.8 350.1,48.9 355.6,69.0 380.9,67.0 404.7,64.6 475.8,70.9" fill="none" stroke="#c8c8c8" stroke-width="0.55" stroke-linejoin="round" stroke-linecap="butt" stroke-opacity="0.42"/>
<polyline points="335.1,85.7 336.7,80.2 339.0,73.6 340.6,69.5 342.2,64.1 344.6,57.7 346.9,49.8 350.1,63.1 355.6,80.7 380.9,84.3" fill="none" stroke="#c8c8c8" stroke-width="0.55" stroke-linejoin="round" stroke-linecap="butt" stroke-opacity="0.42"/>
<polyline points="335.1,93.6 336.7,86.7 339.0,73.9 340.6,63.2 342.2,53.5 344.6,36.7 350.1,52.9 355.6,70.7 380.9,68.8 404.7,68.2 475.8,65.7" fill="none" stroke="#c8c8c8" stroke-width="0.55" stroke-linejoin="round" stroke-linecap="butt" stroke-opacity="0.42"/>
<polyline points="335.1,114.4 336.7,105.5 339.0,92.0 340.6,80.7 342.2,71.2 344.6,51.2 346.9,32.7 350.1,50.1 355.6,66.3 380.9,68.3 404.7,67.8" fill="none" stroke="#c8c8c8" stroke-width="0.55" stroke-linejoin="round" stroke-linecap="butt" stroke-opacity="0.42"/>
<polyline points="334.3,100.7 336.7,94.8 339.0,83.4 340.6,77.2 342.2,66.6 344.6,55.2 350.1,68.0 355.6,82.7 380.9,85.8 404.7,89.6 475.8,94.0" fill="none" stroke="#c8c8c8" stroke-width="0.55" stroke-linejoin="round" stroke-linecap="butt" stroke-opacity="0.42"/>
<polyline points="333.5,105.5 336.7,92.2 339.0,77.3 340.6,66.8 342.2,55.7 350.1,70.7 355.6,82.0 380.9,85.2 404.7,85.2 475.8,87.6" fill="none" stroke="#c8c8c8" stroke-width="0.55" stroke-linejoin="round" stroke-linecap="butt" stroke-opacity="0.42"/>
<polyline points="333.5,73.2 336.7,54.6 339.0,37.3 350.1,57.9 355.6,75.1 380.9,80.1 404.7,81.0 475.8,82.5" fill="none" stroke="#c8c8c8" stroke-width="0.55" stroke-linejoin="round" stroke-linecap="butt" stroke-opacity="0.42"/>
<polyline points="335.1,96.4 336.7,86.5 339.0,66.7 340.6,52.0 342.2,36.2 350.1,53.1 355.6,70.6 380.9,71.5" fill="none" stroke="#c8c8c8" stroke-width="0.55" stroke-linejoin="round" stroke-linecap="butt" stroke-opacity="0.42"/>
<polyline points="334.3,73.2 336.7,59.1 339.0,42.5 340.6,28.1 342.2,15.9 350.1,35.3 355.6,53.4 380.9,56.8 404.7,58.2" fill="none" stroke="#c8c8c8" stroke-width="0.55" stroke-linejoin="round" stroke-linecap="butt" stroke-opacity="0.42"/>
<polyline points="333.5,110.0 336.7,65.7 339.0,22.3 350.1,43.5 355.6,65.8 380.9,63.3 404.7,66.8 475.8,64.3" fill="none" stroke="#c8c8c8" stroke-width="0.55" stroke-linejoin="round" stroke-linecap="butt" stroke-opacity="0.42"/>
<polyline points="333.5,89.2 336.7,83.5 339.0,78.4 340.6,75.7 342.2,69.7 350.1,75.8 355.6,85.5 380.9,87.3" fill="none" stroke="#c8c8c8" stroke-width="0.55" stroke-linejoin="round" stroke-linecap="butt" stroke-opacity="0.42"/>
<polyline points="335.1,69.7 336.7,56.9 339.0,30.1 350.1,45.8 355.6,60.1 380.9,61.2 404.7,66.3 475.8,70.5" fill="none" stroke="#c8c8c8" stroke-width="0.55" stroke-linejoin="round" stroke-linecap="butt" stroke-opacity="0.42"/>
<polyline points="335.1,106.2 336.7,99.5 339.0,84.3 340.6,73.1 342.2,61.2 344.6,43.1 346.9,23.5 350.1,41.7 355.6,62.0" fill="none" stroke="#c8c8c8" stroke-width="0.55" stroke-linejoin="round" stroke-linecap="butt" stroke-opacity="0.42"/>
<polyline points="334.3,106.5 336.7,87.6 339.0,62.9 340.6,42.2 350.1,57.4 355.6,70.6 380.9,73.3 404.7,77.9 475.8,77.6" fill="none" stroke="#c8c8c8" stroke-width="0.55" stroke-linejoin="round" stroke-linecap="butt" stroke-opacity="0.42"/>
<polyline points="335.1,109.1 336.7,94.9 339.0,67.6 340.6,46.6 350.1,62.7 355.6,78.0" fill="none" stroke="#c8c8c8" stroke-width="0.55" stroke-linejoin="round" stroke-linecap="butt" stroke-opacity="0.42"/>
<polyline points="335.1,101.0 336.7,78.5 339.0,35.1 350.1,55.0 355.6,71.9 380.9,72.5 404.7,73.2 475.8,76.3" fill="none" stroke="#c8c8c8" stroke-width="0.55" stroke-linejoin="round" stroke-linecap="butt" stroke-opacity="0.42"/>
<polyline points="333.5,80.4 336.7,73.1 339.0,63.0 340.6,54.7 342.2,48.0 344.6,37.4 346.9,26.9 350.1,48.2 355.6,71.7 380.9,71.8 404.7,69.9 475.8,75.7" fill="none" stroke="#c8c8c8" stroke-width="0.55" stroke-linejoin="round" stroke-linecap="butt" stroke-opacity="0.42"/>
<polyline points="335.1,71.2 336.7,68.5 339.0,62.0 340.6,58.6 342.2,51.4 350.1,64.0 355.6,75.1 380.9,75.1 404.7,77.0" fill="none" stroke="#c8c8c8" stroke-width="0.55" stroke-linejoin="round" stroke-linecap="butt" stroke-opacity="0.42"/>
<polyline points="335.1,69.5 336.7,69.2 339.0,67.1 340.6,65.8 342.2,63.4 344.6,63.7 350.1,70.4 355.6,83.1 380.9,82.6 404.7,85.3 475.8,84.2" fill="none" stroke="#c8c8c8" stroke-width="0.55" stroke-linejoin="round" stroke-linecap="butt" stroke-opacity="0.42"/>
<polyline points="333.5,115.8 336.7,97.9 339.0,83.7 340.6,71.4 342.2,56.6 350.1,69.6 355.6,77.6 380.9,81.8 404.7,86.1" fill="none" stroke="#c8c8c8" stroke-width="0.55" stroke-linejoin="round" stroke-linecap="butt" stroke-opacity="0.42"/>
<polyline points="334.3,106.0 336.7,91.0 339.0,70.8 340.6,58.9 342.2,43.9 350.1,58.9 355.6,70.1 380.9,71.0 404.7,70.0" fill="none" stroke="#c8c8c8" stroke-width="0.55" stroke-linejoin="round" stroke-linecap="butt" stroke-opacity="0.42"/>
<polyline points="333.5,91.8 336.7,83.4 339.0,73.6 340.6,67.6 342.2,63.0 344.6,52.0 346.9,42.1 350.1,59.8 355.6,77.2 380.9,75.7" fill="none" stroke="#c8c8c8" stroke-width="0.55" stroke-linejoin="round" stroke-linecap="butt" stroke-opacity="0.42"/>
<polyline points="334.3,95.6 336.7,88.6 339.0,85.6 340.6,80.3 342.2,75.3 344.6,69.2 350.1,78.5 355.6,88.7 380.9,90.6 404.7,95.6 475.8,96.3" fill="none" stroke="#c8c8c8" stroke-width="0.55" stroke-linejoin="round" stroke-linecap="butt" stroke-opacity="0.42"/>
<polyline points="335.1,68.2 336.7,62.8 339.0,54.0 340.6,46.5 342.2,36.6 344.6,24.4 350.1,48.3 355.6,68.4 380.9,66.2" fill="none" stroke="#c8c8c8" stroke-width="0.55" stroke-linejoin="round" stroke-linecap="butt" stroke-opacity="0.42"/>
<polyline points="334.3,79.9 336.7,71.2 339.0,57.9 340.6,47.3 342.2,36.5 344.6,19.3 350.1,43.3 355.6,63.2 380.9,67.4 404.7,71.8 475.8,72.9" fill="none" stroke="#c8c8c8" stroke-width="0.55" stroke-linejoin="round" stroke-linecap="butt" stroke-opacity="0.42"/>
<polyline points="334.3,89.4 336.7,77.1 339.0,63.9 340.6,57.2 342.2,45.5 350.1,61.6 355.6,77.0 380.9,80.6 404.7,82.5 475.8,86.7" fill="none" stroke="#c8c8c8" stroke-width="0.55" stroke-linejoin="round" stroke-linecap="butt" stroke-opacity="0.42"/>
<polyline points="334.3,96.3 336.7,88.1 339.0,79.1 340.6,73.8 342.2,66.4 344.6,56.3 350.1,66.2 355.6,74.7 380.9,76.6 404.7,79.1 475.8,77.1" fill="none" stroke="#c8c8c8" stroke-width="0.55" stroke-linejoin="round" stroke-linecap="butt" stroke-opacity="0.42"/>
<polyline points="335.1,115.0 336.7,103.2 339.0,87.1 340.6,72.4 342.2,57.7 344.6,33.3 350.1,49.9 355.6,64.1 380.9,62.4 404.7,60.2 475.8,66.4" fill="none" stroke="#c8c8c8" stroke-width="0.55" stroke-linejoin="round" stroke-linecap="butt" stroke-opacity="0.42"/>
<polyline points="334.3,91.6 336.7,84.4 339.0,73.6 340.6,66.5 342.2,59.1 350.1,69.9 355.6,82.6" fill="none" stroke="#c8c8c8" stroke-width="0.55" stroke-linejoin="round" stroke-linecap="butt" stroke-opacity="0.42"/>
<polyline points="335.1,82.8 336.7,77.1 339.0,63.1 340.6,53.0 342.2,41.1 350.1,58.7 355.6,71.2 380.9,70.2 404.7,75.3 475.8,71.9" fill="none" stroke="#c8c8c8" stroke-width="0.55" stroke-linejoin="round" stroke-linecap="butt" stroke-opacity="0.42"/>
<polyline points="335.1,75.8 336.7,70.0 339.0,62.4 340.6,56.5 342.2,48.7 344.6,37.3 350.1,48.2 355.6,63.4 380.9,67.7 404.7,69.7 475.8,70.3" fill="none" stroke="#c8c8c8" stroke-width="0.55" stroke-linejoin="round" stroke-linecap="butt" stroke-opacity="0.42"/>
<polyline points="334.3,75.4 336.7,77.2 339.0,79.3 340.6,79.2 342.2,78.4 344.6,79.6 346.9,81.0 350.1,88.1 355.6,93.3 380.9,93.8 404.7,95.4 475.8,91.7" fill="none" stroke="#c8c8c8" stroke-width="0.55" stroke-linejoin="round" stroke-linecap="butt" stroke-opacity="0.42"/>
<polyline points="333.5,72.7 336.7,61.4 339.0,50.9 340.6,41.2 350.1,57.8 355.6,75.5 380.9,73.2 404.7,72.9 475.8,78.1" fill="none" stroke="#c8c8c8" stroke-width="0.55" stroke-linejoin="round" stroke-linecap="butt" stroke-opacity="0.42"/>
<polyline points="333.5,110.4 336.7,82.9 339.0,58.3 340.6,38.2 350.1,59.2 355.6,76.2 380.9,79.0 404.7,76.7 475.8,76.5" fill="none" stroke="#c8c8c8" stroke-width="0.55" stroke-linejoin="round" stroke-linecap="butt" stroke-opacity="0.42"/>
<polyline points="335.1,109.0 336.7,80.1 339.0,29.1 350.1,45.5 355.6,64.0 380.9,62.3 404.7,60.2 475.8,60.7" fill="none" stroke="#c8c8c8" stroke-width="0.55" stroke-linejoin="round" stroke-linecap="butt" stroke-opacity="0.42"/>
<polyline points="334.3,98.9 336.7,72.6 339.0,41.1 350.1,56.7 355.6,76.3" fill="none" stroke="#c8c8c8" stroke-width="0.55" stroke-linejoin="round" stroke-linecap="butt" stroke-opacity="0.42"/>
<polyline points="335.1,91.5 336.7,81.5 339.0,64.9 340.6,52.1 350.1,68.3 355.6,82.4 380.9,80.2 404.7,81.3 475.8,82.4" fill="none" stroke="#c8c8c8" stroke-width="0.55" stroke-linejoin="round" stroke-linecap="butt" stroke-opacity="0.42"/>
<polyline points="333.5,99.0 336.7,76.0 339.0,54.6 340.6,41.8 342.2,25.8 350.1,46.5 355.6,64.8 380.9,65.3 404.7,65.9 475.8,69.0" fill="none" stroke="#c8c8c8" stroke-width="0.55" stroke-linejoin="round" stroke-linecap="butt" stroke-opacity="0.42"/>
<polyline points="333.5,74.1 336.7,73.8 339.0,71.9 350.1,79.1 355.6,89.0" fill="none" stroke="#c8c8c8" stroke-width="0.55" stroke-linejoin="round" stroke-linecap="butt" stroke-opacity="0.42"/>
<polyline points="334.3,76.1 336.7,67.5 339.0,56.8 340.6,48.6 350.1,60.1 355.6,77.3 380.9,78.6" fill="none" stroke="#c8c8c8" stroke-width="0.55" stroke-linejoin="round" stroke-linecap="butt" stroke-opacity="0.42"/>
<polyline points="333.5,68.9 336.7,68.5 339.0,64.1 340.6,63.6 342.2,61.2 344.6,57.8 350.1,70.5 355.6,77.3 380.9,76.4 404.7,78.2 475.8,76.9" fill="none" stroke="#c8c8c8" stroke-width="0.55" stroke-linejoin="round" stroke-linecap="butt" stroke-opacity="0.42"/>
<polyline points="333.5,83.1 336.7,63.9 339.0,47.3 340.6,34.6 342.2,21.4 350.1,41.4 355.6,63.3 380.9,63.0 404.7,62.7 475.8,65.0" fill="none" stroke="#c8c8c8" stroke-width="0.55" stroke-linejoin="round" stroke-linecap="butt" stroke-opacity="0.42"/>
<polyline points="334.3,108.5 336.7,101.3 339.0,88.7 340.6,83.7 342.2,75.6 344.6,62.9 346.9,48.6 350.1,61.8 355.6,70.7 380.9,70.4 404.7,71.8 475.8,73.7" fill="none" stroke="#c8c8c8" stroke-width="0.55" stroke-linejoin="round" stroke-linecap="butt" stroke-opacity="0.42"/>
<polyline points="333.5,77.4 336.7,70.7 339.0,65.5 340.6,62.9 342.2,59.8 344.6,50.8 350.1,64.1 355.6,75.2 380.9,74.1 404.7,74.0 475.8,75.7" fill="none" stroke="#c8c8c8" stroke-width="0.55" stroke-linejoin="round" stroke-linecap="butt" stroke-opacity="0.42"/>
<polyline points="334.3,94.1 336.7,86.6 339.0,79.7 340.6,73.6 350.1,79.8 355.6,87.4 380.9,90.6 404.7,95.2 475.8,93.2" fill="none" stroke="#c8c8c8" stroke-width="0.55" stroke-linejoin="round" stroke-linecap="butt" stroke-opacity="0.42"/>
<polyline points="335.1,109.2 336.7,100.8 339.0,83.9 340.6,71.4 342.2,59.0 344.6,39.6 350.1,55.6 355.6,74.0 380.9,73.9 404.7,75.1 475.8,80.0" fill="none" stroke="#c8c8c8" stroke-width="0.55" stroke-linejoin="round" stroke-linecap="butt" stroke-opacity="0.42"/>
<polyline points="333.5,101.6 336.7,85.0 339.0,72.6 340.6,62.4 342.2,51.8 350.1,63.1 355.6,80.2 380.9,78.7" fill="none" stroke="#c8c8c8" stroke-width="0.55" stroke-linejoin="round" stroke-linecap="butt" stroke-opacity="0.42"/>
<polyline points="334.3,87.5 336.7,72.8 339.0,50.7 340.6,36.6 350.1,52.7 355.6,71.8" fill="none" stroke="#c8c8c8" stroke-width="0.55" stroke-linejoin="round" stroke-linecap="butt" stroke-opacity="0.42"/>
<polyline points="335.1,105.1 336.7,96.4 339.0,81.7 340.6,70.3 342.2,58.2 350.1,66.8 355.6,79.9 380.9,83.8 404.7,82.3 475.8,80.0" fill="none" stroke="#c8c8c8" stroke-width="0.55" stroke-linejoin="round" stroke-linecap="butt" stroke-opacity="0.42"/>
<polyline points="333.5,76.2 336.7,69.6 339.0,62.7 340.6,58.9 342.2,55.9 344.6,49.4 350.1,59.5 355.6,69.5 380.9,68.5 404.7,71.9 475.8,73.6" fill="none" stroke="#c8c8c8" stroke-width="0.55" stroke-linejoin="round" stroke-linecap="butt" stroke-opacity="0.42"/>
<polyline points="335.1,105.3 336.7,99.3 339.0,84.4 340.6,77.5 342.2,64.9 344.6,49.8 350.1,63.5 355.6,80.9 380.9,85.2 404.7,86.0 475.8,91.2" fill="none" stroke="#c8c8c8" stroke-width="0.55" stroke-linejoin="round" stroke-linecap="butt" stroke-opacity="0.42"/>
<polyline points="333.5,101.7 336.7,95.2 339.0,92.6 340.6,89.5 342.2,84.5 350.1,88.6 355.6,94.4" fill="none" stroke="#c8c8c8" stroke-width="0.55" stroke-linejoin="round" stroke-linecap="butt" stroke-opacity="0.42"/>
<polyline points="335.1,82.0 336.7,79.9 339.0,72.1 340.6,68.4 342.2,63.4 344.6,56.9 350.1,67.0 355.6,79.1 380.9,76.7 404.7,77.5 475.8,82.6" fill="none" stroke="#c8c8c8" stroke-width="0.55" stroke-linejoin="round" stroke-linecap="butt" stroke-opacity="0.42"/>
<polyline points="334.3,106.2 336.7,91.8 339.0,73.3 340.6,59.9 342.2,45.8 350.1,60.3 355.6,68.7 380.9,70.0 404.7,70.6 475.8,70.0" fill="none" stroke="#c8c8c8" stroke-width="0.55" stroke-linejoin="round" stroke-linecap="butt" stroke-opacity="0.42"/>
<polyline points="344.6,99.0 380.9,121.0" fill="none" stroke="#d0d0d0" stroke-width="0.7" stroke-linejoin="round" stroke-linecap="butt"/>
<polyline points="380.9,99.0 475.8,121.0" fill="none" stroke="#d0d0d0" stroke-width="0.7" stroke-linejoin="round" stroke-linecap="butt"/>
<polyline points="336.7,121.0 344.6,60.0" fill="none" stroke="#d0d0d0" stroke-width="0.7" stroke-linejoin="round" stroke-linecap="butt"/>
<polyline points="404.7,44.0 475.8,40.0" fill="none" stroke="#d0d0d0" stroke-width="0.7" stroke-linejoin="round" stroke-linecap="butt"/>
</g>
<line x1="345.50" y1="12.70" x2="345.50" y2="109.60" stroke="#3a9e48" stroke-width="0.9"/>
<line x1="351.40" y1="11.70" x2="351.40" y2="90.00" stroke="#3a9e48" stroke-width="0.9"/>
<line x1="357.30" y1="11.70" x2="357.30" y2="74.30" stroke="#3a9e48" stroke-width="0.9"/>
<line x1="361.20" y1="13.70" x2="361.20" y2="80.20" stroke="#3a9e48" stroke-width="0.9"/>
<line x1="371.80" y1="8.20" x2="371.80" y2="101.30" stroke="#3a9e48" stroke-width="0.9"/>
<line x1="380.90" y1="9.80" x2="380.90" y2="112.70" stroke="#3a9e48" stroke-width="0.9"/>
<line x1="404.40" y1="15.00" x2="404.40" y2="116.20" stroke="#3a9e48" stroke-width="0.9"/>
<line x1="343.60" y1="33.30" x2="343.60" y2="104.70" stroke="#23a0d6" stroke-width="0.9"/>
<line x1="346.90" y1="22.50" x2="346.90" y2="92.00" stroke="#23a0d6" stroke-width="0.9"/>
<line x1="349.50" y1="30.00" x2="349.50" y2="80.20" stroke="#23a0d6" stroke-width="0.9"/>
<line x1="352.00" y1="25.40" x2="352.00" y2="86.00" stroke="#23a0d6" stroke-width="0.9"/>
<line x1="354.70" y1="38.00" x2="354.70" y2="88.00" stroke="#23a0d6" stroke-width="0.9"/>
<line x1="357.70" y1="55.00" x2="357.70" y2="85.00" stroke="#23a0d6" stroke-width="0.9"/>
<line x1="361.00" y1="62.00" x2="361.00" y2="86.00" stroke="#23a0d6" stroke-width="0.9"/>
<line x1="342.60" y1="19.60" x2="342.60" y2="47.00" stroke="#cf3b32" stroke-width="0.9"/>
<line x1="346.10" y1="12.70" x2="346.10" y2="45.00" stroke="#cf3b32" stroke-width="0.9"/>
<line x1="349.50" y1="10.80" x2="349.50" y2="80.00" stroke="#cf3b32" stroke-width="0.9"/>
<line x1="352.40" y1="13.70" x2="352.40" y2="49.00" stroke="#cf3b32" stroke-width="0.9"/>
<line x1="355.30" y1="25.40" x2="355.30" y2="78.30" stroke="#cf3b32" stroke-width="0.9"/>
<line x1="357.90" y1="18.60" x2="357.90" y2="55.00" stroke="#cf3b32" stroke-width="0.9"/>
<line x1="366.50" y1="29.30" x2="366.50" y2="47.00" stroke="#cf3b32" stroke-width="0.9"/>
<line x1="477.00" y1="45.80" x2="477.00" y2="85.00" stroke="#cf3b32" stroke-width="0.9"/>
<polyline points="342.3,71.2 344.0,59.8 346.6,58.8 349.5,57.2 352.1,60.5 355.4,62.1 357.7,70.3 361.0,74.5 366.2,81.7 371.8,87.6 380.9,89.2 404.4,89.9 477.0,94.8" fill="none" stroke="#23a0d6" stroke-width="1.1" stroke-linejoin="round" stroke-linecap="butt"/>
<circle cx="342.3" cy="71.2" r="1.7" fill="#23a0d6"/>
<circle cx="344.0" cy="59.8" r="1.7" fill="#23a0d6"/>
<circle cx="346.6" cy="58.8" r="1.7" fill="#23a0d6"/>
<circle cx="349.5" cy="57.2" r="1.7" fill="#23a0d6"/>
<circle cx="352.1" cy="60.5" r="1.7" fill="#23a0d6"/>
<circle cx="355.4" cy="62.1" r="1.7" fill="#23a0d6"/>
<circle cx="357.7" cy="70.3" r="1.7" fill="#23a0d6"/>
<circle cx="361.0" cy="74.5" r="1.7" fill="#23a0d6"/>
<circle cx="366.2" cy="81.7" r="1.7" fill="#23a0d6"/>
<circle cx="371.8" cy="87.6" r="1.7" fill="#23a0d6"/>
<circle cx="380.9" cy="89.2" r="1.7" fill="#23a0d6"/>
<circle cx="404.4" cy="89.9" r="1.7" fill="#23a0d6"/>
<circle cx="477.0" cy="94.8" r="1.7" fill="#23a0d6"/>
<polyline points="340.7,59.8 344.0,50.7 346.6,43.5 350.5,44.1 354.8,47.4 357.7,49.7 361.0,52.3 366.2,53.9 371.8,54.9 380.9,61.4 404.4,65.4 477.0,51.3" fill="none" stroke="#3a9e48" stroke-width="1.1" stroke-linejoin="round" stroke-linecap="butt"/>
<circle cx="340.7" cy="59.8" r="1.7" fill="#3a9e48"/>
<circle cx="344.0" cy="50.7" r="1.7" fill="#3a9e48"/>
<circle cx="346.6" cy="43.5" r="1.7" fill="#3a9e48"/>
<circle cx="350.5" cy="44.1" r="1.7" fill="#3a9e48"/>
<circle cx="354.8" cy="47.4" r="1.7" fill="#3a9e48"/>
<circle cx="357.7" cy="49.7" r="1.7" fill="#3a9e48"/>
<circle cx="361.0" cy="52.3" r="1.7" fill="#3a9e48"/>
<circle cx="366.2" cy="53.9" r="1.7" fill="#3a9e48"/>
<circle cx="371.8" cy="54.9" r="1.7" fill="#3a9e48"/>
<circle cx="380.9" cy="61.4" r="1.7" fill="#3a9e48"/>
<circle cx="404.4" cy="65.4" r="1.7" fill="#3a9e48"/>
<circle cx="477.0" cy="51.3" r="1.7" fill="#3a9e48"/>
<polyline points="335.8,75.2 338.4,63.7 342.3,45.8 344.0,26.8 347.2,29.4 349.5,31.0 352.1,31.0 355.4,52.3 357.7,36.0 361.0,28.8 366.2,36.9 371.8,28.8 380.9,43.1 404.4,44.8 477.0,64.7" fill="none" stroke="#cf3b32" stroke-width="1.1" stroke-linejoin="round" stroke-linecap="butt"/>
<circle cx="335.8" cy="75.2" r="1.7" fill="#cf3b32"/>
<circle cx="338.4" cy="63.7" r="1.7" fill="#cf3b32"/>
<circle cx="342.3" cy="45.8" r="1.7" fill="#cf3b32"/>
<circle cx="344.0" cy="26.8" r="1.7" fill="#cf3b32"/>
<circle cx="347.2" cy="29.4" r="1.7" fill="#cf3b32"/>
<circle cx="349.5" cy="31.0" r="1.7" fill="#cf3b32"/>
<circle cx="352.1" cy="31.0" r="1.7" fill="#cf3b32"/>
<circle cx="355.4" cy="52.3" r="1.7" fill="#cf3b32"/>
<circle cx="357.7" cy="36.0" r="1.7" fill="#cf3b32"/>
<circle cx="361.0" cy="28.8" r="1.7" fill="#cf3b32"/>
<circle cx="366.2" cy="36.9" r="1.7" fill="#cf3b32"/>
<circle cx="371.8" cy="28.8" r="1.7" fill="#cf3b32"/>
<circle cx="380.9" cy="43.1" r="1.7" fill="#cf3b32"/>
<circle cx="404.4" cy="44.8" r="1.7" fill="#cf3b32"/>
<circle cx="477.0" cy="64.7" r="1.7" fill="#cf3b32"/>
<line x1="326.50" y1="99.30" x2="494.00" y2="99.30" stroke="#333" stroke-width="0.8" stroke-dasharray="1.2,1.4"/>
<text x="327.2" y="88.3" font-size="6.2" text-anchor="start" fill="#1c1c1c" stroke="#1c1c1c" stroke-width="0.18" >LOQ</text>
<polyline points="79.6,294.2 121.5,293.6 136.0,287.6 159.0,277.5 177.8,265.4 205.2,268.8 236.9,273.2" fill="none" stroke="#1e1e1e" stroke-width="1.15" stroke-linejoin="round" stroke-linecap="butt" stroke-dasharray="3.8,3.2"/>
<polyline points="121.5,293.4 138.8,268.8 163.4,258.7 177.8,261.6 205.2,262.5 244.1,267.4" fill="none" stroke="#262626" stroke-width="1.15" stroke-linejoin="round" stroke-linecap="butt" stroke-dasharray="1.2,2.6"/>
<polyline points="127.3,291.9 161.9,286.1 170.0,283.5 179.2,266.0 248.4,276.6" fill="none" stroke="#262626" stroke-width="1.15" stroke-linejoin="round" stroke-linecap="butt" stroke-dasharray="1.2,2.6"/>
<polyline points="170.6,276.0 182.1,270.3 216.7,286.1" fill="none" stroke="#72c3da" stroke-width="1.15" stroke-linejoin="round" stroke-linecap="butt" stroke-dasharray="1.2,2.6"/>
<polyline points="286.1,294.0 335.4,252.4 359.2,244.0 445.0,249.9" fill="none" stroke="#3ba3c6" stroke-width="1.0" stroke-linejoin="round" stroke-linecap="butt"/>
<polyline points="286.1,294.0 335.4,256.1 359.2,248.8 412.0,249.9 437.7,250.6" fill="none" stroke="#3ba3c6" stroke-width="1.0" stroke-linejoin="round" stroke-linecap="butt"/>
<polyline points="295.2,277.5 359.2,247.5 370.0,244.0 408.5,241.5" fill="none" stroke="#e56c68" stroke-width="1.15" stroke-linejoin="round" stroke-linecap="butt" stroke-dasharray="1.2,2.6"/>
<polyline points="297.0,294.0 322.6,265.2 342.7,254.3 359.2,257.2 383.0,255.0 445.0,261.6" fill="none" stroke="#1e1e1e" stroke-width="1.0" stroke-linejoin="round" stroke-linecap="butt"/>
<polyline points="315.3,294.0 337.2,281.7 359.2,257.9 375.6,268.9 401.2,275.5 415.8,276.2 439.5,291.5" fill="none" stroke="#1e1e1e" stroke-width="1.0" stroke-linejoin="round" stroke-linecap="butt"/>
<polyline points="289.7,294.0 302.7,281.8 313.5,276.4 333.6,261.6 340.4,258.9 361.9,252.8 437.7,257.9" fill="none" stroke="#1e1e1e" stroke-width="1.15" stroke-linejoin="round" stroke-linecap="butt" stroke-dasharray="3.8,3.2"/>
<polyline points="293.4,294.0 350.0,261.6 364.6,252.4 434.0,253.5" fill="none" stroke="#3ba3c6" stroke-width="1.15" stroke-linejoin="round" stroke-linecap="butt" stroke-dasharray="3.8,3.2"/>
<polyline points="306.2,290.8 351.9,265.2 375.6,267.0 434.0,267.0" fill="none" stroke="#262626" stroke-width="1.15" stroke-linejoin="round" stroke-linecap="butt" stroke-dasharray="1.2,2.6"/>
<polyline points="309.8,294.0 359.2,257.2 380.0,256.0 420.0,258.0" fill="none" stroke="#5fb6d0" stroke-width="1.15" stroke-linejoin="round" stroke-linecap="butt" stroke-dasharray="1.2,2.6"/>
<polyline points="302.5,285.3 353.7,263.4 365.0,260.0" fill="none" stroke="#262626" stroke-width="1.15" stroke-linejoin="round" stroke-linecap="butt" stroke-dasharray="1.2,2.6"/>
<polyline points="79.6,359.0 119.0,350.4 160.4,365.8 177.3,353.3 233.0,387.0" fill="none" stroke="#72c3da" stroke-width="1.15" stroke-linejoin="round" stroke-linecap="butt" stroke-dasharray="1.2,2.6"/>
<polyline points="79.6,359.0 125.8,382.0 138.3,388.5 160.4,388.5 244.6,390.4" fill="none" stroke="#262626" stroke-width="1.15" stroke-linejoin="round" stroke-linecap="butt" stroke-dasharray="1.2,2.6"/>
<polyline points="79.6,375.0 127.7,381.0 170.0,378.3 244.6,381.2" fill="none" stroke="#262626" stroke-width="1.15" stroke-linejoin="round" stroke-linecap="butt" stroke-dasharray="1.2,2.6"/>
<polyline points="79.6,390.4 158.5,390.4 168.0,384.0 177.3,380.2 198.5,389.8 238.8,378.3" fill="none" stroke="#1e1e1e" stroke-width="1.15" stroke-linejoin="round" stroke-linecap="butt" stroke-dasharray="3.8,3.2"/>
<polyline points="273.3,363.2 313.5,355.1 331.8,317.5 361.0,345.6 370.4,347.5 399.4,361.3 439.5,344.2" fill="none" stroke="#3ba3c6" stroke-width="1.0" stroke-linejoin="round" stroke-linecap="butt"/>
<polyline points="317.2,352.2 331.8,333.9 350.0,318.6 368.3,317.5 380.0,322.0 393.5,330.2" fill="none" stroke="#e56c68" stroke-width="1.15" stroke-linejoin="round" stroke-linecap="butt" stroke-dasharray="1.2,2.6"/>
<polyline points="273.3,344.2 288.0,352.2 302.5,358.8 320.0,365.0" fill="none" stroke="#e56c68" stroke-width="1.15" stroke-linejoin="round" stroke-linecap="butt" stroke-dasharray="1.2,2.6"/>
<polyline points="339.0,359.5 350.0,344.9 364.6,333.9 372.0,338.0" fill="none" stroke="#5fb6d0" stroke-width="1.15" stroke-linejoin="round" stroke-linecap="butt" stroke-dasharray="1.2,2.6"/>
<polyline points="372.0,357.7 437.7,327.3" fill="none" stroke="#5fb6d0" stroke-width="1.15" stroke-linejoin="round" stroke-linecap="butt" stroke-dasharray="1.2,2.6"/>
<polyline points="273.3,358.8 317.2,350.4 339.0,357.7 372.0,355.1 434.0,355.1" fill="none" stroke="#262626" stroke-width="1.15" stroke-linejoin="round" stroke-linecap="butt" stroke-dasharray="1.2,2.6"/>
<polyline points="368.3,323.0 375.6,339.4 386.6,348.5 434.0,355.1" fill="none" stroke="#262626" stroke-width="1.15" stroke-linejoin="round" stroke-linecap="butt" stroke-dasharray="1.2,2.6"/>
<polyline points="386.6,355.8 434.0,366.8" fill="none" stroke="#262626" stroke-width="1.15" stroke-linejoin="round" stroke-linecap="butt" stroke-dasharray="1.2,2.6"/>
<polyline points="320.8,357.7 339.0,366.8 362.8,363.2 380.0,372.0" fill="none" stroke="#1e1e1e" stroke-width="1.15" stroke-linejoin="round" stroke-linecap="butt" stroke-dasharray="3.8,3.2"/>
<polyline points="273.3,366.1 320.8,366.1 339.0,366.8 362.8,383.2 380.0,388.0 445.0,390.0" fill="none" stroke="#1e1e1e" stroke-width="1.0" stroke-linejoin="round" stroke-linecap="butt"/>
<polyline points="348.5,376.5 361.0,368.6 377.3,375.6 410.0,384.2 445.0,396.8" fill="none" stroke="#3ba3c6" stroke-width="1.0" stroke-linejoin="round" stroke-linecap="butt"/>
<polyline points="273.3,379.6 309.8,372.3 339.0,377.8 361.0,383.2 445.0,379.6" fill="none" stroke="#1e1e1e" stroke-width="1.0" stroke-linejoin="round" stroke-linecap="butt"/>
<polyline points="273.3,383.2 320.8,381.4 361.0,388.7 445.0,388.7" fill="none" stroke="#1e1e1e" stroke-width="1.0" stroke-linejoin="round" stroke-linecap="butt"/>
<polyline points="273.3,386.9 339.0,385.1 375.6,383.2 445.0,385.1" fill="none" stroke="#1e1e1e" stroke-width="1.0" stroke-linejoin="round" stroke-linecap="butt"/>
<polyline points="273.3,390.6 313.5,388.7 357.3,385.1 445.0,383.2" fill="none" stroke="#1e1e1e" stroke-width="1.0" stroke-linejoin="round" stroke-linecap="butt"/>
<polyline points="273.3,391.6 320.8,388.7 357.3,370.5 368.3,379.6 400.0,386.0" fill="none" stroke="#3ba3c6" stroke-width="1.0" stroke-linejoin="round" stroke-linecap="butt"/>
<polyline points="340.0,372.0 361.0,378.0 400.0,386.0 445.0,381.0" fill="none" stroke="#1e1e1e" stroke-width="1.0" stroke-linejoin="round" stroke-linecap="butt"/>
<polyline points="273.3,370.0 310.0,369.0 348.0,371.0 375.0,366.0 410.0,370.0" fill="none" stroke="#262626" stroke-width="1.15" stroke-linejoin="round" stroke-linecap="butt" stroke-dasharray="1.2,2.6"/>
<polyline points="365.8,374.6 410.0,381.3 440.0,383.0" fill="none" stroke="#262626" stroke-width="1.15" stroke-linejoin="round" stroke-linecap="butt" stroke-dasharray="1.2,2.6"/>
<polyline points="310.0,371.7 333.0,375.6 363.8,378.5 383.0,384.2 445.0,385.2" fill="none" stroke="#1e1e1e" stroke-width="1.0" stroke-linejoin="round" stroke-linecap="butt"/>
<polyline points="290.0,368.0 335.0,367.0 350.4,378.5 370.0,386.0 410.0,388.0" fill="none" stroke="#1e1e1e" stroke-width="1.0" stroke-linejoin="round" stroke-linecap="butt"/>
<polyline points="330.0,356.0 345.0,362.0 358.0,366.0" fill="none" stroke="#1e1e1e" stroke-width="1.15" stroke-linejoin="round" stroke-linecap="butt" stroke-dasharray="3.8,3.2"/>
<polyline points="79.6,485.3 118.0,475.7 137.3,461.3 160.4,443.0 179.2,455.5 198.5,460.3 237.0,450.7" fill="none" stroke="#72c3da" stroke-width="1.15" stroke-linejoin="round" stroke-linecap="butt" stroke-dasharray="1.2,2.6"/>
<polyline points="79.6,460.7 98.8,472.8 122.0,485.3 147.0,485.3 160.0,481.5 179.2,467.0 204.2,468.0 242.7,487.2" fill="none" stroke="#262626" stroke-width="1.15" stroke-linejoin="round" stroke-linecap="butt" stroke-dasharray="1.2,2.6"/>
<polyline points="79.6,474.2 114.2,476.7 143.0,485.3 160.4,482.4 171.5,475.7 194.6,492.0 235.0,492.0" fill="none" stroke="#262626" stroke-width="1.15" stroke-linejoin="round" stroke-linecap="butt" stroke-dasharray="1.2,2.6"/>
<polyline points="79.6,505.0 142.0,505.0 158.5,486.3 177.3,491.0 237.0,504.5" fill="none" stroke="#1e1e1e" stroke-width="1.15" stroke-linejoin="round" stroke-linecap="butt" stroke-dasharray="3.8,3.2"/>
<polyline points="273.7,476.5 310.0,476.5 340.0,472.0 360.0,470.0" fill="none" stroke="#262626" stroke-width="1.15" stroke-linejoin="round" stroke-linecap="butt" stroke-dasharray="1.2,2.6"/>
<polyline points="273.7,481.3 320.0,481.3 345.0,478.0" fill="none" stroke="#e56c68" stroke-width="1.15" stroke-linejoin="round" stroke-linecap="butt" stroke-dasharray="1.2,2.6"/>
<polyline points="273.7,485.2 305.0,485.2 330.0,478.0 355.0,470.0" fill="none" stroke="#5fb6d0" stroke-width="1.15" stroke-linejoin="round" stroke-linecap="butt" stroke-dasharray="1.2,2.6"/>
<polyline points="273.7,475.6 316.0,459.2 331.4,440.0 346.8,459.2 358.3,478.5 361.8,483.5 394.5,491.2 438.7,488.3" fill="none" stroke="#3ba3c6" stroke-width="1.0" stroke-linejoin="round" stroke-linecap="butt"/>
<polyline points="273.7,505.4 304.5,487.1 337.0,462.1 354.5,440.0 359.8,438.3 444.5,469.0" fill="none" stroke="#3ba3c6" stroke-width="1.0" stroke-linejoin="round" stroke-linecap="butt"/>
<polyline points="281.0,500.0 320.0,475.0 350.0,440.0 362.0,432.0 375.0,432.0 392.0,452.0 430.0,468.0" fill="none" stroke="#3ba3c6" stroke-width="1.15" stroke-linejoin="round" stroke-linecap="butt" stroke-dasharray="3.8,3.2"/>
<polyline points="340.0,455.0 360.0,430.0 367.5,425.8 384.8,445.0 433.0,466.2" fill="none" stroke="#5fb6d0" stroke-width="1.15" stroke-linejoin="round" stroke-linecap="butt" stroke-dasharray="1.2,2.6"/>
<polyline points="322.0,470.0 339.0,453.0 357.0,433.0 361.0,427.3 372.0,427.3 386.6,441.9" fill="none" stroke="#e56c68" stroke-width="1.15" stroke-linejoin="round" stroke-linecap="butt" stroke-dasharray="1.2,2.6"/>
<polyline points="305.0,478.0 339.0,455.0 357.3,429.1 369.5,429.6 381.0,441.2 394.5,456.5 430.4,469.3" fill="none" stroke="#262626" stroke-width="1.15" stroke-linejoin="round" stroke-linecap="butt" stroke-dasharray="1.2,2.6"/>
<polyline points="340.0,480.0 363.7,477.7 394.5,468.0 419.5,473.8" fill="none" stroke="#262626" stroke-width="1.15" stroke-linejoin="round" stroke-linecap="butt" stroke-dasharray="1.2,2.6"/>
<polyline points="345.0,484.0 367.5,475.8 419.5,477.7" fill="none" stroke="#262626" stroke-width="1.15" stroke-linejoin="round" stroke-linecap="butt" stroke-dasharray="1.2,2.6"/>
<polyline points="304.5,478.5 339.0,461.5 360.8,445.0 394.5,466.2 431.0,475.8" fill="none" stroke="#1e1e1e" stroke-width="1.15" stroke-linejoin="round" stroke-linecap="butt" stroke-dasharray="3.8,3.2"/>
<polyline points="273.7,469.8 323.7,460.2 333.3,463.0 356.0,471.0 373.3,468.0 394.5,458.5" fill="none" stroke="#1e1e1e" stroke-width="1.0" stroke-linejoin="round" stroke-linecap="butt"/>
<polyline points="273.7,505.4 339.0,461.2 356.0,455.6 365.6,447.9 381.0,449.8 444.5,476.7" fill="none" stroke="#1e1e1e" stroke-width="1.0" stroke-linejoin="round" stroke-linecap="butt"/>
<polyline points="273.7,491.0 314.0,485.2 335.2,481.3 356.0,466.2 381.0,460.4 398.3,460.4 444.5,488.3" fill="none" stroke="#1e1e1e" stroke-width="1.0" stroke-linejoin="round" stroke-linecap="butt"/>
<polyline points="273.7,491.0 314.0,495.8 337.0,481.3 356.0,477.7 375.2,481.5 427.2,477.7" fill="none" stroke="#1e1e1e" stroke-width="1.0" stroke-linejoin="round" stroke-linecap="butt"/>
<polyline points="273.7,505.4 314.0,505.4 337.0,482.3 356.0,485.4 396.4,481.5 433.0,489.2" fill="none" stroke="#1e1e1e" stroke-width="1.0" stroke-linejoin="round" stroke-linecap="butt"/>
<polyline points="273.7,489.5 310.0,484.0 340.0,478.0 356.0,492.1 363.7,493.1 398.3,487.3 438.7,504.6" fill="none" stroke="#1e1e1e" stroke-width="1.0" stroke-linejoin="round" stroke-linecap="butt"/>
<polyline points="79.6,542.3 100.8,566.3 118.0,587.5 143.0,590.4 166.0,584.6 177.3,576.0 202.3,580.8 244.6,580.8" fill="none" stroke="#262626" stroke-width="1.15" stroke-linejoin="round" stroke-linecap="butt" stroke-dasharray="1.2,2.6"/>
<polyline points="79.6,555.8 122.0,555.8 131.5,561.5 158.5,549.0 171.5,558.7 238.8,570.2" fill="none" stroke="#72c3da" stroke-width="1.15" stroke-linejoin="round" stroke-linecap="butt" stroke-dasharray="1.2,2.6"/>
<polyline points="79.6,567.0 118.0,569.2 143.0,575.4 158.5,574.6 171.5,570.2 185.0,575.4 233.0,574.6" fill="none" stroke="#262626" stroke-width="1.15" stroke-linejoin="round" stroke-linecap="butt" stroke-dasharray="1.2,2.6"/>
<polyline points="79.6,571.0 98.8,570.8 118.0,569.6 137.3,561.5 156.5,557.7 166.0,555.0 177.3,546.2 200.4,557.7 238.8,557.7" fill="none" stroke="#1e1e1e" stroke-width="1.15" stroke-linejoin="round" stroke-linecap="butt" stroke-dasharray="3.8,3.2"/>
<polyline points="273.7,565.6 314.0,540.6 323.7,540.6 331.4,533.8 346.8,562.7 356.4,576.2 359.8,583.8 371.4,589.6 398.3,597.3 413.7,581.9 438.7,558.8" fill="none" stroke="#3ba3c6" stroke-width="1.0" stroke-linejoin="round" stroke-linecap="butt"/>
<polyline points="273.7,596.3 323.7,572.3 358.3,553.0 360.8,554.0 400.2,580.0 444.5,606.0" fill="none" stroke="#3ba3c6" stroke-width="1.0" stroke-linejoin="round" stroke-linecap="butt"/>
<polyline points="273.7,584.8 293.0,585.8 308.3,586.7 323.7,578.0 345.0,566.0 362.0,558.0" fill="none" stroke="#3ba3c6" stroke-width="1.15" stroke-linejoin="round" stroke-linecap="butt" stroke-dasharray="3.8,3.2"/>
<polyline points="340.0,560.0 360.0,540.0 367.5,533.8 384.8,560.8 409.8,568.5 438.7,558.8" fill="none" stroke="#5fb6d0" stroke-width="1.15" stroke-linejoin="round" stroke-linecap="butt" stroke-dasharray="1.2,2.6"/>
<polyline points="273.7,574.2 291.0,571.3 304.5,560.8 319.8,553.0 333.3,535.8 343.0,532.9 358.3,533.8 372.0,540.0 392.0,560.0" fill="none" stroke="#e56c68" stroke-width="1.15" stroke-linejoin="round" stroke-linecap="butt" stroke-dasharray="1.2,2.6"/>
<polyline points="285.2,565.6 304.5,558.8 319.8,553.0 329.5,548.3 343.0,543.5 354.5,537.7 365.6,533.8 381.0,545.4 438.7,548.3" fill="none" stroke="#262626" stroke-width="1.15" stroke-linejoin="round" stroke-linecap="butt" stroke-dasharray="1.2,2.6"/>
<polyline points="285.0,588.0 293.0,582.0 308.0,569.0 320.0,556.0 330.0,549.0 340.0,550.0 353.0,543.0 358.0,534.0 373.3,547.3 394.5,564.6 413.7,558.8 434.8,550.2" fill="none" stroke="#1e1e1e" stroke-width="1.15" stroke-linejoin="round" stroke-linecap="butt" stroke-dasharray="3.8,3.2"/>
<polyline points="273.7,560.8 304.5,566.5 323.7,570.4 339.0,574.2 358.3,576.2 371.4,585.8 394.5,584.8 413.7,579.0 432.9,566.5" fill="none" stroke="#1e1e1e" stroke-width="1.0" stroke-linejoin="round" stroke-linecap="butt"/>
<polyline points="273.7,567.5 330.0,566.0 356.0,566.5 392.5,560.8 438.7,564.6" fill="none" stroke="#1e1e1e" stroke-width="1.0" stroke-linejoin="round" stroke-linecap="butt"/>
<polyline points="273.7,570.0 320.0,569.0 356.0,567.5 400.2,564.6 438.7,563.7" fill="none" stroke="#1e1e1e" stroke-width="1.0" stroke-linejoin="round" stroke-linecap="butt"/>
<polyline points="273.7,572.0 330.0,573.0 356.0,570.4 375.2,570.4 394.5,575.2 413.7,577.1 444.5,573.3" fill="none" stroke="#1e1e1e" stroke-width="1.0" stroke-linejoin="round" stroke-linecap="butt"/>
<polyline points="273.7,581.0 314.0,576.2 327.5,581.0 343.0,577.1 363.7,576.2 413.7,578.0 444.5,572.3" fill="none" stroke="#1e1e1e" stroke-width="1.0" stroke-linejoin="round" stroke-linecap="butt"/>
<polyline points="273.7,587.7 314.0,574.2 339.0,564.6 346.8,568.5 356.0,553.0 365.6,546.3 384.8,565.6 402.2,576.2 444.5,584.8" fill="none" stroke="#1e1e1e" stroke-width="1.0" stroke-linejoin="round" stroke-linecap="butt"/>
<polyline points="300.0,578.0 340.0,575.0 363.7,578.0 394.5,575.2 436.8,585.8" fill="none" stroke="#262626" stroke-width="1.15" stroke-linejoin="round" stroke-linecap="butt" stroke-dasharray="1.2,2.6"/>
</svg></body></html>
